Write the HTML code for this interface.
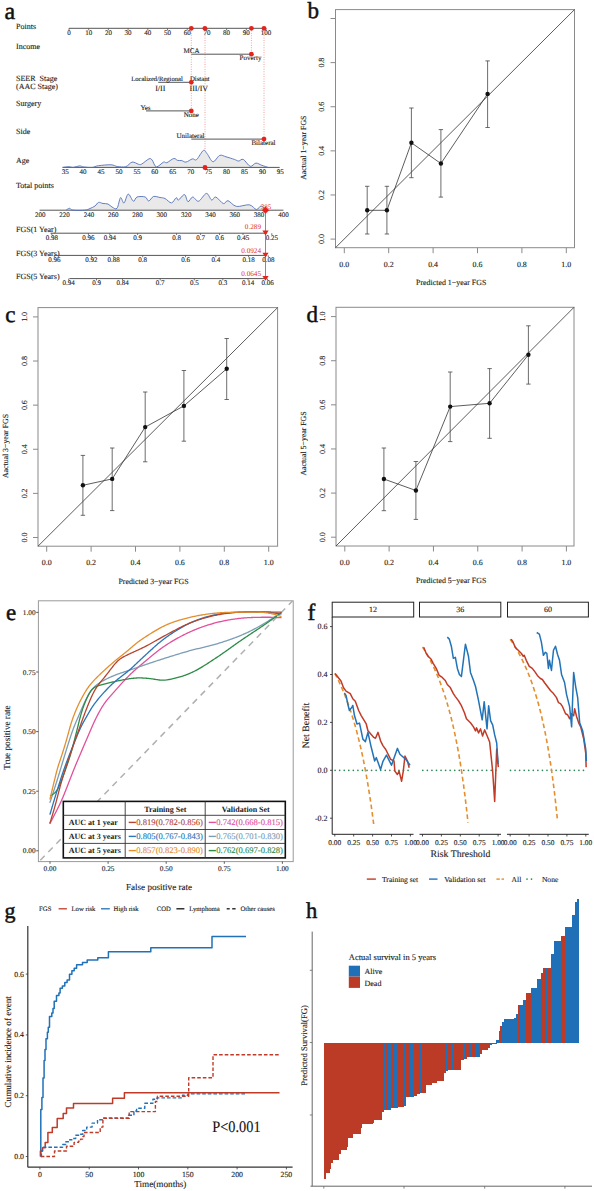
<!DOCTYPE html>
<html><head><meta charset="utf-8"><style>
html,body{margin:0;padding:0;background:#fff;}
svg{display:block;font-family:"Liberation Serif", serif;text-rendering:geometricPrecision;}
</style></head><body>
<svg width="594" height="1191" viewBox="0 0 594 1191">
<rect x="0" y="0" width="594" height="1191" fill="#fff"/>
<text x="4.60" y="18.60" font-size="24" text-anchor="start" fill="#111" font-weight="normal" stroke="#111" stroke-width="0.5">a</text>
<line x1="69.00" y1="28.30" x2="265.50" y2="28.30" stroke="#555" stroke-width="1"/>
<line x1="69.00" y1="28.30" x2="69.00" y2="30.30" stroke="#555" stroke-width="0.8"/>
<text x="69.00" y="34.92" font-size="7" text-anchor="middle" fill="#222" font-weight="normal" stroke="#222" stroke-width="0.12">0</text>
<line x1="88.70" y1="28.30" x2="88.70" y2="30.30" stroke="#555" stroke-width="0.8"/>
<text x="88.70" y="34.92" font-size="7" text-anchor="middle" fill="#222" font-weight="normal" stroke="#222" stroke-width="0.12">10</text>
<line x1="108.40" y1="28.30" x2="108.40" y2="30.30" stroke="#555" stroke-width="0.8"/>
<text x="108.40" y="34.92" font-size="7" text-anchor="middle" fill="#222" font-weight="normal" stroke="#222" stroke-width="0.12">20</text>
<line x1="128.10" y1="28.30" x2="128.10" y2="30.30" stroke="#555" stroke-width="0.8"/>
<text x="128.10" y="34.92" font-size="7" text-anchor="middle" fill="#222" font-weight="normal" stroke="#222" stroke-width="0.12">30</text>
<line x1="147.80" y1="28.30" x2="147.80" y2="30.30" stroke="#555" stroke-width="0.8"/>
<text x="147.80" y="34.92" font-size="7" text-anchor="middle" fill="#222" font-weight="normal" stroke="#222" stroke-width="0.12">40</text>
<line x1="167.50" y1="28.30" x2="167.50" y2="30.30" stroke="#555" stroke-width="0.8"/>
<text x="167.50" y="34.92" font-size="7" text-anchor="middle" fill="#222" font-weight="normal" stroke="#222" stroke-width="0.12">50</text>
<line x1="187.20" y1="28.30" x2="187.20" y2="30.30" stroke="#555" stroke-width="0.8"/>
<text x="187.20" y="34.92" font-size="7" text-anchor="middle" fill="#222" font-weight="normal" stroke="#222" stroke-width="0.12">60</text>
<line x1="206.90" y1="28.30" x2="206.90" y2="30.30" stroke="#555" stroke-width="0.8"/>
<text x="206.90" y="34.92" font-size="7" text-anchor="middle" fill="#222" font-weight="normal" stroke="#222" stroke-width="0.12">70</text>
<line x1="226.60" y1="28.30" x2="226.60" y2="30.30" stroke="#555" stroke-width="0.8"/>
<text x="226.60" y="34.92" font-size="7" text-anchor="middle" fill="#222" font-weight="normal" stroke="#222" stroke-width="0.12">80</text>
<line x1="246.30" y1="28.30" x2="246.30" y2="30.30" stroke="#555" stroke-width="0.8"/>
<text x="246.30" y="34.92" font-size="7" text-anchor="middle" fill="#222" font-weight="normal" stroke="#222" stroke-width="0.12">90</text>
<line x1="266.00" y1="28.30" x2="266.00" y2="30.30" stroke="#555" stroke-width="0.8"/>
<text x="266.00" y="34.92" font-size="7" text-anchor="middle" fill="#222" font-weight="normal" stroke="#222" stroke-width="0.12">100</text>
<text x="16.00" y="28.65" font-size="8" text-anchor="start" fill="#222" font-weight="normal" xml:space="preserve" stroke="#222" stroke-width="0.12">Points</text>
<text x="16.00" y="48.85" font-size="8" text-anchor="start" fill="#222" font-weight="normal" xml:space="preserve" stroke="#222" stroke-width="0.12">Income</text>
<text x="16.00" y="80.95" font-size="8" text-anchor="start" fill="#222" font-weight="normal" xml:space="preserve" stroke="#222" stroke-width="0.12">SEER  Stage</text>
<text x="16.00" y="88.55" font-size="8" text-anchor="start" fill="#222" font-weight="normal" xml:space="preserve" stroke="#222" stroke-width="0.12">(AAC Stage)</text>
<text x="16.00" y="105.65" font-size="8" text-anchor="start" fill="#222" font-weight="normal" xml:space="preserve" stroke="#222" stroke-width="0.12">Surgery</text>
<text x="16.00" y="134.05" font-size="8" text-anchor="start" fill="#222" font-weight="normal" xml:space="preserve" stroke="#222" stroke-width="0.12">Side</text>
<text x="16.00" y="162.55" font-size="8" text-anchor="start" fill="#222" font-weight="normal" xml:space="preserve" stroke="#222" stroke-width="0.12">Age</text>
<text x="16.00" y="187.95" font-size="8" text-anchor="start" fill="#222" font-weight="normal" xml:space="preserve" stroke="#222" stroke-width="0.12">Total points</text>
<line x1="191.30" y1="30.50" x2="191.30" y2="111.00" stroke="#e56a6a" stroke-width="0.7" stroke-dasharray="0.9,1.5"/>
<line x1="205.00" y1="30.50" x2="205.00" y2="167.40" stroke="#e56a6a" stroke-width="0.7" stroke-dasharray="0.9,1.5"/>
<line x1="251.40" y1="30.50" x2="251.40" y2="54.20" stroke="#e56a6a" stroke-width="0.7" stroke-dasharray="0.9,1.5"/>
<line x1="264.00" y1="30.50" x2="264.00" y2="139.10" stroke="#e56a6a" stroke-width="0.7" stroke-dasharray="0.9,1.5"/>
<line x1="191.30" y1="54.20" x2="251.40" y2="54.20" stroke="#555" stroke-width="1"/>
<text x="191.50" y="52.82" font-size="7" text-anchor="middle" fill="#222" font-weight="normal" stroke="#222" stroke-width="0.12">MCA</text>
<text x="250.50" y="60.12" font-size="7" text-anchor="middle" fill="#222" font-weight="normal" stroke="#222" stroke-width="0.12">Poverty</text>
<line x1="158.20" y1="82.30" x2="191.30" y2="82.30" stroke="#555" stroke-width="1"/>
<text x="157.00" y="80.68" font-size="6.6" text-anchor="middle" fill="#222" font-weight="normal" stroke="#222" stroke-width="0.12">Localized/Regional</text>
<text x="199.70" y="80.75" font-size="6.8" text-anchor="middle" fill="#222" font-weight="normal" stroke="#222" stroke-width="0.12">Distant</text>
<text x="160.30" y="91.25" font-size="8" text-anchor="middle" fill="#222" font-weight="normal" stroke="#222" stroke-width="0.12">I/II</text>
<text x="198.80" y="91.25" font-size="8" text-anchor="middle" fill="#222" font-weight="normal" stroke="#222" stroke-width="0.12">III/IV</text>
<line x1="146.00" y1="110.90" x2="191.30" y2="110.90" stroke="#555" stroke-width="1"/>
<text x="145.50" y="109.82" font-size="7" text-anchor="middle" fill="#222" font-weight="normal" stroke="#222" stroke-width="0.12">Yes</text>
<text x="191.30" y="117.32" font-size="7" text-anchor="middle" fill="#222" font-weight="normal" stroke="#222" stroke-width="0.12">None</text>
<line x1="191.30" y1="139.10" x2="264.00" y2="139.10" stroke="#555" stroke-width="1"/>
<text x="190.50" y="138.32" font-size="7" text-anchor="middle" fill="#222" font-weight="normal" stroke="#222" stroke-width="0.12">Unilateral</text>
<text x="263.50" y="145.22" font-size="7" text-anchor="middle" fill="#222" font-weight="normal" stroke="#222" stroke-width="0.12">Bilateral</text>
<circle cx="191.30" cy="28.30" r="2.4" fill="#e3231c"/>
<circle cx="204.90" cy="28.30" r="2.4" fill="#e3231c"/>
<circle cx="251.40" cy="28.30" r="2.4" fill="#e3231c"/>
<circle cx="264.00" cy="28.30" r="2.4" fill="#e3231c"/>
<circle cx="251.40" cy="54.20" r="2.4" fill="#e3231c"/>
<circle cx="191.30" cy="82.30" r="2.4" fill="#e3231c"/>
<circle cx="191.30" cy="110.90" r="2.4" fill="#e3231c"/>
<circle cx="264.00" cy="139.10" r="2.4" fill="#e3231c"/>
<circle cx="205.00" cy="167.40" r="2.4" fill="#e3231c"/>
<path d="M62.60,167.40 C63.65,167.28 67.15,166.70 68.90,166.70 C70.65,166.70 71.33,167.53 73.10,167.40 C74.87,167.27 77.73,165.98 79.50,165.90 C81.27,165.82 81.60,166.65 83.70,166.90 C85.80,167.15 89.65,167.60 92.10,167.40 C94.55,167.20 95.25,166.13 98.40,165.70 C101.55,165.27 107.85,164.67 111.00,164.80 C114.15,164.93 114.83,166.18 117.30,166.50 C119.77,166.82 123.33,167.43 125.80,166.70 C128.27,165.97 130.00,162.52 132.10,162.10 C134.20,161.68 136.83,163.85 138.40,164.20 C139.97,164.55 139.75,165.08 141.50,164.20 C143.25,163.32 147.13,159.60 148.90,158.90 C150.67,158.20 150.87,158.67 152.10,160.00 C153.33,161.33 154.38,166.55 156.30,166.90 C158.22,167.25 161.85,162.80 163.60,162.10 C165.35,161.40 165.10,163.30 166.80,162.70 C168.50,162.10 172.00,158.88 173.80,158.50 C175.60,158.12 176.27,160.05 177.60,160.40 C178.93,160.75 180.40,160.32 181.80,160.60 C183.20,160.88 184.23,162.38 186.00,162.10 C187.77,161.82 190.63,159.32 192.40,158.90 C194.17,158.48 194.78,161.00 196.60,159.60 C198.42,158.20 201.55,151.48 203.30,150.50 C205.05,149.52 205.48,151.83 207.10,153.70 C208.72,155.57 210.90,161.42 213.00,161.70 C215.10,161.98 217.53,156.22 219.70,155.40 C221.87,154.58 223.55,156.13 226.00,156.80 C228.45,157.47 232.28,158.70 234.40,159.40 C236.52,160.10 237.22,161.00 238.70,161.00 C240.18,161.00 241.38,158.52 243.30,159.40 C245.22,160.28 248.10,165.68 250.20,166.30 C252.30,166.92 253.97,163.27 255.90,163.10 C257.83,162.93 259.77,164.58 261.80,165.30 C263.83,166.02 267.05,167.05 268.10,167.40 Z" stroke="none" stroke-width="1" fill="#e9e9ea"/>
<line x1="62.60" y1="167.40" x2="279.70" y2="167.40" stroke="#555" stroke-width="1"/>
<path d="M62.60,167.40 C63.65,167.28 67.15,166.70 68.90,166.70 C70.65,166.70 71.33,167.53 73.10,167.40 C74.87,167.27 77.73,165.98 79.50,165.90 C81.27,165.82 81.60,166.65 83.70,166.90 C85.80,167.15 89.65,167.60 92.10,167.40 C94.55,167.20 95.25,166.13 98.40,165.70 C101.55,165.27 107.85,164.67 111.00,164.80 C114.15,164.93 114.83,166.18 117.30,166.50 C119.77,166.82 123.33,167.43 125.80,166.70 C128.27,165.97 130.00,162.52 132.10,162.10 C134.20,161.68 136.83,163.85 138.40,164.20 C139.97,164.55 139.75,165.08 141.50,164.20 C143.25,163.32 147.13,159.60 148.90,158.90 C150.67,158.20 150.87,158.67 152.10,160.00 C153.33,161.33 154.38,166.55 156.30,166.90 C158.22,167.25 161.85,162.80 163.60,162.10 C165.35,161.40 165.10,163.30 166.80,162.70 C168.50,162.10 172.00,158.88 173.80,158.50 C175.60,158.12 176.27,160.05 177.60,160.40 C178.93,160.75 180.40,160.32 181.80,160.60 C183.20,160.88 184.23,162.38 186.00,162.10 C187.77,161.82 190.63,159.32 192.40,158.90 C194.17,158.48 194.78,161.00 196.60,159.60 C198.42,158.20 201.55,151.48 203.30,150.50 C205.05,149.52 205.48,151.83 207.10,153.70 C208.72,155.57 210.90,161.42 213.00,161.70 C215.10,161.98 217.53,156.22 219.70,155.40 C221.87,154.58 223.55,156.13 226.00,156.80 C228.45,157.47 232.28,158.70 234.40,159.40 C236.52,160.10 237.22,161.00 238.70,161.00 C240.18,161.00 241.38,158.52 243.30,159.40 C245.22,160.28 248.10,165.68 250.20,166.30 C252.30,166.92 253.97,163.27 255.90,163.10 C257.83,162.93 259.77,164.58 261.80,165.30 C263.83,166.02 267.05,167.05 268.10,167.40" stroke="#5270b8" stroke-width="0.9" fill="none"/>
<circle cx="205.00" cy="167.40" r="2.4" fill="#e3231c"/>
<text x="65.20" y="174.12" font-size="7" text-anchor="middle" fill="#222" font-weight="normal" stroke="#222" stroke-width="0.12">35</text>
<text x="83.12" y="174.12" font-size="7" text-anchor="middle" fill="#222" font-weight="normal" stroke="#222" stroke-width="0.12">40</text>
<text x="101.05" y="174.12" font-size="7" text-anchor="middle" fill="#222" font-weight="normal" stroke="#222" stroke-width="0.12">45</text>
<text x="118.97" y="174.12" font-size="7" text-anchor="middle" fill="#222" font-weight="normal" stroke="#222" stroke-width="0.12">50</text>
<text x="136.90" y="174.12" font-size="7" text-anchor="middle" fill="#222" font-weight="normal" stroke="#222" stroke-width="0.12">55</text>
<text x="154.82" y="174.12" font-size="7" text-anchor="middle" fill="#222" font-weight="normal" stroke="#222" stroke-width="0.12">60</text>
<text x="172.75" y="174.12" font-size="7" text-anchor="middle" fill="#222" font-weight="normal" stroke="#222" stroke-width="0.12">65</text>
<text x="190.68" y="174.12" font-size="7" text-anchor="middle" fill="#222" font-weight="normal" stroke="#222" stroke-width="0.12">70</text>
<text x="208.60" y="174.12" font-size="7" text-anchor="middle" fill="#222" font-weight="normal" stroke="#222" stroke-width="0.12">75</text>
<text x="226.52" y="174.12" font-size="7" text-anchor="middle" fill="#222" font-weight="normal" stroke="#222" stroke-width="0.12">80</text>
<text x="244.45" y="174.12" font-size="7" text-anchor="middle" fill="#222" font-weight="normal" stroke="#222" stroke-width="0.12">85</text>
<text x="262.38" y="174.12" font-size="7" text-anchor="middle" fill="#222" font-weight="normal" stroke="#222" stroke-width="0.12">90</text>
<text x="280.30" y="174.12" font-size="7" text-anchor="middle" fill="#222" font-weight="normal" stroke="#222" stroke-width="0.12">95</text>
<path d="M66.00,210.20 C66.58,209.88 68.33,208.30 69.50,208.30 C70.67,208.30 70.42,209.88 73.00,210.20 C75.58,210.52 82.17,210.48 85.00,210.20 C87.83,209.92 88.33,209.20 90.00,208.50 C91.67,207.80 93.58,207.02 95.00,206.00 C96.42,204.98 97.17,202.82 98.50,202.40 C99.83,201.98 101.42,203.23 103.00,203.50 C104.58,203.77 106.50,203.42 108.00,204.00 C109.50,204.58 110.50,206.28 112.00,207.00 C113.50,207.72 115.58,209.85 117.00,208.30 C118.42,206.75 119.33,198.58 120.50,197.70 C121.67,196.82 122.72,203.60 124.00,203.00 C125.28,202.40 126.63,194.40 128.20,194.10 C129.77,193.80 131.93,200.72 133.40,201.20 C134.87,201.68 135.03,197.70 137.00,197.00 C138.97,196.30 143.25,196.33 145.20,197.00 C147.15,197.67 147.32,201.08 148.70,201.00 C150.08,200.92 151.62,197.08 153.50,196.50 C155.38,195.92 158.08,197.17 160.00,197.50 C161.92,197.83 163.08,197.60 165.00,198.50 C166.92,199.40 169.63,203.03 171.50,202.90 C173.37,202.77 175.03,198.18 176.20,197.70 C177.37,197.22 177.12,200.52 178.50,200.00 C179.88,199.48 182.92,194.32 184.50,194.60 C186.08,194.88 186.63,201.30 188.00,201.70 C189.37,202.10 190.93,197.08 192.70,197.00 C194.47,196.92 196.32,201.80 198.60,201.20 C200.88,200.60 204.23,193.60 206.40,193.40 C208.57,193.20 210.03,199.40 211.60,200.00 C213.17,200.60 213.83,196.40 215.80,197.00 C217.77,197.60 221.37,202.98 223.40,203.60 C225.43,204.22 225.83,200.23 228.00,200.70 C230.17,201.17 232.85,205.72 236.40,206.40 C239.95,207.08 245.97,204.28 249.30,204.80 C252.63,205.32 254.45,209.30 256.40,209.50 C258.35,209.70 259.43,205.88 261.00,206.00 C262.57,206.12 265.00,209.50 265.80,210.20 Z" stroke="none" stroke-width="1" fill="#e9e9ea"/>
<line x1="39.60" y1="210.20" x2="283.40" y2="210.20" stroke="#555" stroke-width="1"/>
<path d="M66.00,210.20 C66.58,209.88 68.33,208.30 69.50,208.30 C70.67,208.30 70.42,209.88 73.00,210.20 C75.58,210.52 82.17,210.48 85.00,210.20 C87.83,209.92 88.33,209.20 90.00,208.50 C91.67,207.80 93.58,207.02 95.00,206.00 C96.42,204.98 97.17,202.82 98.50,202.40 C99.83,201.98 101.42,203.23 103.00,203.50 C104.58,203.77 106.50,203.42 108.00,204.00 C109.50,204.58 110.50,206.28 112.00,207.00 C113.50,207.72 115.58,209.85 117.00,208.30 C118.42,206.75 119.33,198.58 120.50,197.70 C121.67,196.82 122.72,203.60 124.00,203.00 C125.28,202.40 126.63,194.40 128.20,194.10 C129.77,193.80 131.93,200.72 133.40,201.20 C134.87,201.68 135.03,197.70 137.00,197.00 C138.97,196.30 143.25,196.33 145.20,197.00 C147.15,197.67 147.32,201.08 148.70,201.00 C150.08,200.92 151.62,197.08 153.50,196.50 C155.38,195.92 158.08,197.17 160.00,197.50 C161.92,197.83 163.08,197.60 165.00,198.50 C166.92,199.40 169.63,203.03 171.50,202.90 C173.37,202.77 175.03,198.18 176.20,197.70 C177.37,197.22 177.12,200.52 178.50,200.00 C179.88,199.48 182.92,194.32 184.50,194.60 C186.08,194.88 186.63,201.30 188.00,201.70 C189.37,202.10 190.93,197.08 192.70,197.00 C194.47,196.92 196.32,201.80 198.60,201.20 C200.88,200.60 204.23,193.60 206.40,193.40 C208.57,193.20 210.03,199.40 211.60,200.00 C213.17,200.60 213.83,196.40 215.80,197.00 C217.77,197.60 221.37,202.98 223.40,203.60 C225.43,204.22 225.83,200.23 228.00,200.70 C230.17,201.17 232.85,205.72 236.40,206.40 C239.95,207.08 245.97,204.28 249.30,204.80 C252.63,205.32 254.45,209.30 256.40,209.50 C258.35,209.70 259.43,205.88 261.00,206.00 C262.57,206.12 265.00,209.50 265.80,210.20" stroke="#5270b8" stroke-width="0.9" fill="none"/>
<text x="40.30" y="216.72" font-size="7" text-anchor="middle" fill="#222" font-weight="normal" stroke="#222" stroke-width="0.12">200</text>
<text x="64.61" y="216.72" font-size="7" text-anchor="middle" fill="#222" font-weight="normal" stroke="#222" stroke-width="0.12">220</text>
<text x="88.92" y="216.72" font-size="7" text-anchor="middle" fill="#222" font-weight="normal" stroke="#222" stroke-width="0.12">240</text>
<text x="113.23" y="216.72" font-size="7" text-anchor="middle" fill="#222" font-weight="normal" stroke="#222" stroke-width="0.12">260</text>
<text x="137.54" y="216.72" font-size="7" text-anchor="middle" fill="#222" font-weight="normal" stroke="#222" stroke-width="0.12">280</text>
<text x="161.85" y="216.72" font-size="7" text-anchor="middle" fill="#222" font-weight="normal" stroke="#222" stroke-width="0.12">300</text>
<text x="186.16" y="216.72" font-size="7" text-anchor="middle" fill="#222" font-weight="normal" stroke="#222" stroke-width="0.12">320</text>
<text x="210.47" y="216.72" font-size="7" text-anchor="middle" fill="#222" font-weight="normal" stroke="#222" stroke-width="0.12">340</text>
<text x="234.78" y="216.72" font-size="7" text-anchor="middle" fill="#222" font-weight="normal" stroke="#222" stroke-width="0.12">360</text>
<text x="259.09" y="216.72" font-size="7" text-anchor="middle" fill="#222" font-weight="normal" stroke="#222" stroke-width="0.12">380</text>
<text x="283.40" y="216.72" font-size="7" text-anchor="middle" fill="#222" font-weight="normal" stroke="#222" stroke-width="0.12">400</text>
<text x="16.00" y="232.25" font-size="8" text-anchor="start" fill="#222" font-weight="normal" stroke="#222" stroke-width="0.12">FGS(1 Year)</text>
<line x1="50.50" y1="233.20" x2="266.50" y2="233.20" stroke="#555" stroke-width="1"/>
<line x1="51.80" y1="233.20" x2="51.80" y2="235.00" stroke="#555" stroke-width="0.8"/>
<text x="51.80" y="239.62" font-size="7" text-anchor="middle" fill="#222" font-weight="normal" stroke="#222" stroke-width="0.12">0.98</text>
<line x1="88.40" y1="233.20" x2="88.40" y2="235.00" stroke="#555" stroke-width="0.8"/>
<text x="88.40" y="239.62" font-size="7" text-anchor="middle" fill="#222" font-weight="normal" stroke="#222" stroke-width="0.12">0.96</text>
<line x1="109.80" y1="233.20" x2="109.80" y2="235.00" stroke="#555" stroke-width="0.8"/>
<text x="109.80" y="239.62" font-size="7" text-anchor="middle" fill="#222" font-weight="normal" stroke="#222" stroke-width="0.12">0.94</text>
<line x1="137.60" y1="233.20" x2="137.60" y2="235.00" stroke="#555" stroke-width="0.8"/>
<text x="137.60" y="239.62" font-size="7" text-anchor="middle" fill="#222" font-weight="normal" stroke="#222" stroke-width="0.12">0.9</text>
<line x1="176.60" y1="233.20" x2="176.60" y2="235.00" stroke="#555" stroke-width="0.8"/>
<text x="176.60" y="239.62" font-size="7" text-anchor="middle" fill="#222" font-weight="normal" stroke="#222" stroke-width="0.12">0.8</text>
<line x1="200.60" y1="233.20" x2="200.60" y2="235.00" stroke="#555" stroke-width="0.8"/>
<text x="200.60" y="239.62" font-size="7" text-anchor="middle" fill="#222" font-weight="normal" stroke="#222" stroke-width="0.12">0.7</text>
<line x1="219.50" y1="233.20" x2="219.50" y2="235.00" stroke="#555" stroke-width="0.8"/>
<text x="219.50" y="239.62" font-size="7" text-anchor="middle" fill="#222" font-weight="normal" stroke="#222" stroke-width="0.12">0.6</text>
<line x1="243.00" y1="233.20" x2="243.00" y2="235.00" stroke="#555" stroke-width="0.8"/>
<text x="243.00" y="239.62" font-size="7" text-anchor="middle" fill="#222" font-weight="normal" stroke="#222" stroke-width="0.12">0.45</text>
<line x1="271.80" y1="233.20" x2="271.80" y2="235.00" stroke="#555" stroke-width="0.8"/>
<text x="271.80" y="239.62" font-size="7" text-anchor="middle" fill="#222" font-weight="normal" stroke="#222" stroke-width="0.12">0.25</text>
<text x="261.00" y="229.48" font-size="7.2" text-anchor="end" fill="#e0302a" font-weight="normal">0.289</text>
<text x="16.00" y="255.55" font-size="8" text-anchor="start" fill="#222" font-weight="normal" stroke="#222" stroke-width="0.12">FGS(3 Years)</text>
<line x1="54.30" y1="255.40" x2="266.50" y2="255.40" stroke="#555" stroke-width="1"/>
<line x1="54.30" y1="255.40" x2="54.30" y2="257.20" stroke="#555" stroke-width="0.8"/>
<text x="54.30" y="262.32" font-size="7" text-anchor="middle" fill="#222" font-weight="normal" stroke="#222" stroke-width="0.12">0.96</text>
<line x1="91.40" y1="255.40" x2="91.40" y2="257.20" stroke="#555" stroke-width="0.8"/>
<text x="91.40" y="262.32" font-size="7" text-anchor="middle" fill="#222" font-weight="normal" stroke="#222" stroke-width="0.12">0.92</text>
<line x1="113.60" y1="255.40" x2="113.60" y2="257.20" stroke="#555" stroke-width="0.8"/>
<text x="113.60" y="262.32" font-size="7" text-anchor="middle" fill="#222" font-weight="normal" stroke="#222" stroke-width="0.12">0.88</text>
<line x1="142.70" y1="255.40" x2="142.70" y2="257.20" stroke="#555" stroke-width="0.8"/>
<text x="142.70" y="262.32" font-size="7" text-anchor="middle" fill="#222" font-weight="normal" stroke="#222" stroke-width="0.12">0.8</text>
<line x1="185.50" y1="255.40" x2="185.50" y2="257.20" stroke="#555" stroke-width="0.8"/>
<text x="185.50" y="262.32" font-size="7" text-anchor="middle" fill="#222" font-weight="normal" stroke="#222" stroke-width="0.12">0.6</text>
<line x1="215.80" y1="255.40" x2="215.80" y2="257.20" stroke="#555" stroke-width="0.8"/>
<text x="215.80" y="262.32" font-size="7" text-anchor="middle" fill="#222" font-weight="normal" stroke="#222" stroke-width="0.12">0.4</text>
<line x1="248.60" y1="255.40" x2="248.60" y2="257.20" stroke="#555" stroke-width="0.8"/>
<text x="248.60" y="262.32" font-size="7" text-anchor="middle" fill="#222" font-weight="normal" stroke="#222" stroke-width="0.12">0.18</text>
<line x1="268.30" y1="255.40" x2="268.30" y2="257.20" stroke="#555" stroke-width="0.8"/>
<text x="268.30" y="262.32" font-size="7" text-anchor="middle" fill="#222" font-weight="normal" stroke="#222" stroke-width="0.12">0.08</text>
<text x="261.00" y="252.78" font-size="7.2" text-anchor="end" fill="#e0302a" font-weight="normal">0.0924</text>
<text x="16.00" y="278.75" font-size="8" text-anchor="start" fill="#222" font-weight="normal" stroke="#222" stroke-width="0.12">FGS(5 Years)</text>
<line x1="69.40" y1="278.60" x2="266.50" y2="278.60" stroke="#555" stroke-width="1"/>
<line x1="68.70" y1="278.60" x2="68.70" y2="280.40" stroke="#555" stroke-width="0.8"/>
<text x="68.70" y="285.02" font-size="7" text-anchor="middle" fill="#222" font-weight="normal" stroke="#222" stroke-width="0.12">0.94</text>
<line x1="96.50" y1="278.60" x2="96.50" y2="280.40" stroke="#555" stroke-width="0.8"/>
<text x="96.50" y="285.02" font-size="7" text-anchor="middle" fill="#222" font-weight="normal" stroke="#222" stroke-width="0.12">0.9</text>
<line x1="122.50" y1="278.60" x2="122.50" y2="280.40" stroke="#555" stroke-width="0.8"/>
<text x="122.50" y="285.02" font-size="7" text-anchor="middle" fill="#222" font-weight="normal" stroke="#222" stroke-width="0.12">0.84</text>
<line x1="160.20" y1="278.60" x2="160.20" y2="280.40" stroke="#555" stroke-width="0.8"/>
<text x="160.20" y="285.02" font-size="7" text-anchor="middle" fill="#222" font-weight="normal" stroke="#222" stroke-width="0.12">0.7</text>
<line x1="194.30" y1="278.60" x2="194.30" y2="280.40" stroke="#555" stroke-width="0.8"/>
<text x="194.30" y="285.02" font-size="7" text-anchor="middle" fill="#222" font-weight="normal" stroke="#222" stroke-width="0.12">0.5</text>
<line x1="222.80" y1="278.60" x2="222.80" y2="280.40" stroke="#555" stroke-width="0.8"/>
<text x="222.80" y="285.02" font-size="7" text-anchor="middle" fill="#222" font-weight="normal" stroke="#222" stroke-width="0.12">0.3</text>
<line x1="248.00" y1="278.60" x2="248.00" y2="280.40" stroke="#555" stroke-width="0.8"/>
<text x="248.00" y="285.02" font-size="7" text-anchor="middle" fill="#222" font-weight="normal" stroke="#222" stroke-width="0.12">0.14</text>
<line x1="267.50" y1="278.60" x2="267.50" y2="280.40" stroke="#555" stroke-width="0.8"/>
<text x="267.50" y="285.02" font-size="7" text-anchor="middle" fill="#222" font-weight="normal" stroke="#222" stroke-width="0.12">0.06</text>
<text x="261.00" y="275.98" font-size="7.2" text-anchor="end" fill="#e0302a" font-weight="normal">0.0645</text>
<line x1="265.50" y1="207.00" x2="265.50" y2="278.60" stroke="#e23a35" stroke-width="0.8"/>
<polygon points="265.5,206.6 269.1,210.2 265.5,213.8 261.9,210.2" fill="#e3231c"/>
<text x="266.00" y="208.92" font-size="7" text-anchor="middle" fill="#e0302a" font-weight="normal">385</text>
<polygon points="262.4,230.60 268.6,230.60 265.5,235.40" fill="#e3231c"/>
<polygon points="262.4,252.80 268.6,252.80 265.5,257.60" fill="#e3231c"/>
<polygon points="262.4,276.00 268.6,276.00 265.5,280.80" fill="#e3231c"/>
<rect x="335.50" y="9.60" width="239.00" height="238.10" fill="none" stroke="#8a8a8a" stroke-width="1"/>
<line x1="344.30" y1="247.70" x2="344.30" y2="253.20" stroke="#8a8a8a" stroke-width="1"/>
<text x="344.30" y="266.51" font-size="7.9" text-anchor="middle" fill="#222" font-weight="normal" stroke="#222" stroke-width="0.12">0.0</text>
<line x1="330.50" y1="239.10" x2="335.50" y2="239.10" stroke="#8a8a8a" stroke-width="1"/>
<text x="321.50" y="241.71" font-size="7.9" text-anchor="middle" fill="#222" font-weight="normal" transform="rotate(-90 321.50 239.10)" stroke="#222" stroke-width="0.12">0.0</text>
<line x1="388.70" y1="247.70" x2="388.70" y2="253.20" stroke="#8a8a8a" stroke-width="1"/>
<text x="388.70" y="266.51" font-size="7.9" text-anchor="middle" fill="#222" font-weight="normal" stroke="#222" stroke-width="0.12">0.2</text>
<line x1="330.50" y1="194.98" x2="335.50" y2="194.98" stroke="#8a8a8a" stroke-width="1"/>
<text x="321.50" y="197.59" font-size="7.9" text-anchor="middle" fill="#222" font-weight="normal" transform="rotate(-90 321.50 194.98)" stroke="#222" stroke-width="0.12">0.2</text>
<line x1="433.10" y1="247.70" x2="433.10" y2="253.20" stroke="#8a8a8a" stroke-width="1"/>
<text x="433.10" y="266.51" font-size="7.9" text-anchor="middle" fill="#222" font-weight="normal" stroke="#222" stroke-width="0.12">0.4</text>
<line x1="330.50" y1="150.86" x2="335.50" y2="150.86" stroke="#8a8a8a" stroke-width="1"/>
<text x="321.50" y="153.47" font-size="7.9" text-anchor="middle" fill="#222" font-weight="normal" transform="rotate(-90 321.50 150.86)" stroke="#222" stroke-width="0.12">0.4</text>
<line x1="477.50" y1="247.70" x2="477.50" y2="253.20" stroke="#8a8a8a" stroke-width="1"/>
<text x="477.50" y="266.51" font-size="7.9" text-anchor="middle" fill="#222" font-weight="normal" stroke="#222" stroke-width="0.12">0.6</text>
<line x1="330.50" y1="106.74" x2="335.50" y2="106.74" stroke="#8a8a8a" stroke-width="1"/>
<text x="321.50" y="109.35" font-size="7.9" text-anchor="middle" fill="#222" font-weight="normal" transform="rotate(-90 321.50 106.74)" stroke="#222" stroke-width="0.12">0.6</text>
<line x1="521.90" y1="247.70" x2="521.90" y2="253.20" stroke="#8a8a8a" stroke-width="1"/>
<text x="521.90" y="266.51" font-size="7.9" text-anchor="middle" fill="#222" font-weight="normal" stroke="#222" stroke-width="0.12">0.8</text>
<line x1="330.50" y1="62.62" x2="335.50" y2="62.62" stroke="#8a8a8a" stroke-width="1"/>
<text x="321.50" y="65.23" font-size="7.9" text-anchor="middle" fill="#222" font-weight="normal" transform="rotate(-90 321.50 62.62)" stroke="#222" stroke-width="0.12">0.8</text>
<line x1="566.30" y1="247.70" x2="566.30" y2="253.20" stroke="#8a8a8a" stroke-width="1"/>
<text x="566.30" y="266.51" font-size="7.9" text-anchor="middle" fill="#222" font-weight="normal" stroke="#222" stroke-width="0.12">1.0</text>
<line x1="330.50" y1="18.50" x2="335.50" y2="18.50" stroke="#8a8a8a" stroke-width="1"/>
<line x1="335.50" y1="247.70" x2="574.50" y2="9.60" stroke="#333" stroke-width="0.8"/>
<polyline points="367.20,210.30 386.90,210.30 411.40,142.80 440.90,163.50 487.60,93.90" stroke="#333" stroke-width="0.8" fill="none" stroke-linejoin="round"/>
<line x1="367.20" y1="186.30" x2="367.20" y2="234.00" stroke="#484848" stroke-width="0.8"/>
<line x1="365.00" y1="186.30" x2="369.40" y2="186.30" stroke="#484848" stroke-width="0.8"/>
<line x1="365.00" y1="234.00" x2="369.40" y2="234.00" stroke="#484848" stroke-width="0.8"/>
<circle cx="367.20" cy="210.30" r="2.2" fill="#111"/>
<line x1="386.90" y1="186.30" x2="386.90" y2="234.00" stroke="#484848" stroke-width="0.8"/>
<line x1="384.70" y1="186.30" x2="389.10" y2="186.30" stroke="#484848" stroke-width="0.8"/>
<line x1="384.70" y1="234.00" x2="389.10" y2="234.00" stroke="#484848" stroke-width="0.8"/>
<circle cx="386.90" cy="210.30" r="2.2" fill="#111"/>
<line x1="411.40" y1="108.00" x2="411.40" y2="177.70" stroke="#484848" stroke-width="0.8"/>
<line x1="409.20" y1="108.00" x2="413.60" y2="108.00" stroke="#484848" stroke-width="0.8"/>
<line x1="409.20" y1="177.70" x2="413.60" y2="177.70" stroke="#484848" stroke-width="0.8"/>
<circle cx="411.40" cy="142.80" r="2.2" fill="#111"/>
<line x1="440.90" y1="129.60" x2="440.90" y2="197.10" stroke="#484848" stroke-width="0.8"/>
<line x1="438.70" y1="129.60" x2="443.10" y2="129.60" stroke="#484848" stroke-width="0.8"/>
<line x1="438.70" y1="197.10" x2="443.10" y2="197.10" stroke="#484848" stroke-width="0.8"/>
<circle cx="440.90" cy="163.50" r="2.2" fill="#111"/>
<line x1="487.60" y1="60.90" x2="487.60" y2="127.50" stroke="#484848" stroke-width="0.8"/>
<line x1="485.40" y1="60.90" x2="489.80" y2="60.90" stroke="#484848" stroke-width="0.8"/>
<line x1="485.40" y1="127.50" x2="489.80" y2="127.50" stroke="#484848" stroke-width="0.8"/>
<circle cx="487.60" cy="93.90" r="2.2" fill="#111"/>
<text x="451.20" y="285.41" font-size="7.9" text-anchor="middle" fill="#222" font-weight="normal" stroke="#222" stroke-width="0.12">Predicted 1−year FGS</text>
<text x="303.10" y="150.28" font-size="7.8" text-anchor="middle" fill="#222" font-weight="normal" transform="rotate(-90 303.10 147.70)" stroke="#222" stroke-width="0.12">Aactual 1−year FGS</text>
<text x="307.40" y="18.20" font-size="23" text-anchor="start" fill="#111" font-weight="normal" stroke="#111" stroke-width="0.5">b</text>
<rect x="38.00" y="307.60" width="239.60" height="238.60" fill="none" stroke="#8a8a8a" stroke-width="1"/>
<line x1="46.70" y1="546.20" x2="46.70" y2="551.70" stroke="#8a8a8a" stroke-width="1"/>
<text x="46.70" y="565.01" font-size="7.9" text-anchor="middle" fill="#222" font-weight="normal" stroke="#222" stroke-width="0.12">0.0</text>
<line x1="33.00" y1="537.50" x2="38.00" y2="537.50" stroke="#8a8a8a" stroke-width="1"/>
<text x="24.00" y="540.11" font-size="7.9" text-anchor="middle" fill="#222" font-weight="normal" transform="rotate(-90 24.00 537.50)" stroke="#222" stroke-width="0.12">0.0</text>
<line x1="91.10" y1="546.20" x2="91.10" y2="551.70" stroke="#8a8a8a" stroke-width="1"/>
<text x="91.10" y="565.01" font-size="7.9" text-anchor="middle" fill="#222" font-weight="normal" stroke="#222" stroke-width="0.12">0.2</text>
<line x1="33.00" y1="493.38" x2="38.00" y2="493.38" stroke="#8a8a8a" stroke-width="1"/>
<text x="24.00" y="495.99" font-size="7.9" text-anchor="middle" fill="#222" font-weight="normal" transform="rotate(-90 24.00 493.38)" stroke="#222" stroke-width="0.12">0.2</text>
<line x1="135.50" y1="546.20" x2="135.50" y2="551.70" stroke="#8a8a8a" stroke-width="1"/>
<text x="135.50" y="565.01" font-size="7.9" text-anchor="middle" fill="#222" font-weight="normal" stroke="#222" stroke-width="0.12">0.4</text>
<line x1="33.00" y1="449.26" x2="38.00" y2="449.26" stroke="#8a8a8a" stroke-width="1"/>
<text x="24.00" y="451.87" font-size="7.9" text-anchor="middle" fill="#222" font-weight="normal" transform="rotate(-90 24.00 449.26)" stroke="#222" stroke-width="0.12">0.4</text>
<line x1="179.90" y1="546.20" x2="179.90" y2="551.70" stroke="#8a8a8a" stroke-width="1"/>
<text x="179.90" y="565.01" font-size="7.9" text-anchor="middle" fill="#222" font-weight="normal" stroke="#222" stroke-width="0.12">0.6</text>
<line x1="33.00" y1="405.14" x2="38.00" y2="405.14" stroke="#8a8a8a" stroke-width="1"/>
<text x="24.00" y="407.75" font-size="7.9" text-anchor="middle" fill="#222" font-weight="normal" transform="rotate(-90 24.00 405.14)" stroke="#222" stroke-width="0.12">0.6</text>
<line x1="224.30" y1="546.20" x2="224.30" y2="551.70" stroke="#8a8a8a" stroke-width="1"/>
<text x="224.30" y="565.01" font-size="7.9" text-anchor="middle" fill="#222" font-weight="normal" stroke="#222" stroke-width="0.12">0.8</text>
<line x1="33.00" y1="361.02" x2="38.00" y2="361.02" stroke="#8a8a8a" stroke-width="1"/>
<text x="24.00" y="363.63" font-size="7.9" text-anchor="middle" fill="#222" font-weight="normal" transform="rotate(-90 24.00 361.02)" stroke="#222" stroke-width="0.12">0.8</text>
<line x1="268.70" y1="546.20" x2="268.70" y2="551.70" stroke="#8a8a8a" stroke-width="1"/>
<text x="268.70" y="565.01" font-size="7.9" text-anchor="middle" fill="#222" font-weight="normal" stroke="#222" stroke-width="0.12">1.0</text>
<line x1="33.00" y1="316.90" x2="38.00" y2="316.90" stroke="#8a8a8a" stroke-width="1"/>
<text x="24.00" y="319.51" font-size="7.9" text-anchor="middle" fill="#222" font-weight="normal" transform="rotate(-90 24.00 316.90)" stroke="#222" stroke-width="0.12">1.0</text>
<line x1="38.00" y1="546.20" x2="277.60" y2="307.60" stroke="#333" stroke-width="0.8"/>
<polyline points="82.90,485.30 112.20,478.90 145.20,427.10 183.90,405.90 226.70,368.80" stroke="#333" stroke-width="0.8" fill="none" stroke-linejoin="round"/>
<line x1="82.90" y1="455.40" x2="82.90" y2="515.30" stroke="#484848" stroke-width="0.8"/>
<line x1="80.70" y1="455.40" x2="85.10" y2="455.40" stroke="#484848" stroke-width="0.8"/>
<line x1="80.70" y1="515.30" x2="85.10" y2="515.30" stroke="#484848" stroke-width="0.8"/>
<circle cx="82.90" cy="485.30" r="2.2" fill="#111"/>
<line x1="112.20" y1="448.00" x2="112.20" y2="510.60" stroke="#484848" stroke-width="0.8"/>
<line x1="110.00" y1="448.00" x2="114.40" y2="448.00" stroke="#484848" stroke-width="0.8"/>
<line x1="110.00" y1="510.60" x2="114.40" y2="510.60" stroke="#484848" stroke-width="0.8"/>
<circle cx="112.20" cy="478.90" r="2.2" fill="#111"/>
<line x1="145.20" y1="392.00" x2="145.20" y2="461.80" stroke="#484848" stroke-width="0.8"/>
<line x1="143.00" y1="392.00" x2="147.40" y2="392.00" stroke="#484848" stroke-width="0.8"/>
<line x1="143.00" y1="461.80" x2="147.40" y2="461.80" stroke="#484848" stroke-width="0.8"/>
<circle cx="145.20" cy="427.10" r="2.2" fill="#111"/>
<line x1="183.90" y1="370.50" x2="183.90" y2="441.20" stroke="#484848" stroke-width="0.8"/>
<line x1="181.70" y1="370.50" x2="186.10" y2="370.50" stroke="#484848" stroke-width="0.8"/>
<line x1="181.70" y1="441.20" x2="186.10" y2="441.20" stroke="#484848" stroke-width="0.8"/>
<circle cx="183.90" cy="405.90" r="2.2" fill="#111"/>
<line x1="226.70" y1="338.50" x2="226.70" y2="399.50" stroke="#484848" stroke-width="0.8"/>
<line x1="224.50" y1="338.50" x2="228.90" y2="338.50" stroke="#484848" stroke-width="0.8"/>
<line x1="224.50" y1="399.50" x2="228.90" y2="399.50" stroke="#484848" stroke-width="0.8"/>
<circle cx="226.70" cy="368.80" r="2.2" fill="#111"/>
<text x="153.50" y="584.01" font-size="7.9" text-anchor="middle" fill="#222" font-weight="normal" stroke="#222" stroke-width="0.12">Predicted 3−year FGS</text>
<text x="5.60" y="448.58" font-size="7.8" text-anchor="middle" fill="#222" font-weight="normal" transform="rotate(-90 5.60 446.00)" stroke="#222" stroke-width="0.12">Aactual 3−year FGS</text>
<text x="5.20" y="321.90" font-size="23" text-anchor="start" fill="#111" font-weight="normal" stroke="#111" stroke-width="0.5">c</text>
<rect x="336.00" y="307.30" width="238.00" height="238.70" fill="none" stroke="#8a8a8a" stroke-width="1"/>
<line x1="344.80" y1="546.00" x2="344.80" y2="551.50" stroke="#8a8a8a" stroke-width="1"/>
<text x="344.80" y="564.81" font-size="7.9" text-anchor="middle" fill="#222" font-weight="normal" stroke="#222" stroke-width="0.12">0.0</text>
<line x1="331.00" y1="537.20" x2="336.00" y2="537.20" stroke="#8a8a8a" stroke-width="1"/>
<text x="322.00" y="539.81" font-size="7.9" text-anchor="middle" fill="#222" font-weight="normal" transform="rotate(-90 322.00 537.20)" stroke="#222" stroke-width="0.12">0.0</text>
<line x1="389.12" y1="546.00" x2="389.12" y2="551.50" stroke="#8a8a8a" stroke-width="1"/>
<text x="389.12" y="564.81" font-size="7.9" text-anchor="middle" fill="#222" font-weight="normal" stroke="#222" stroke-width="0.12">0.2</text>
<line x1="331.00" y1="493.08" x2="336.00" y2="493.08" stroke="#8a8a8a" stroke-width="1"/>
<text x="322.00" y="495.69" font-size="7.9" text-anchor="middle" fill="#222" font-weight="normal" transform="rotate(-90 322.00 493.08)" stroke="#222" stroke-width="0.12">0.2</text>
<line x1="433.44" y1="546.00" x2="433.44" y2="551.50" stroke="#8a8a8a" stroke-width="1"/>
<text x="433.44" y="564.81" font-size="7.9" text-anchor="middle" fill="#222" font-weight="normal" stroke="#222" stroke-width="0.12">0.4</text>
<line x1="331.00" y1="448.96" x2="336.00" y2="448.96" stroke="#8a8a8a" stroke-width="1"/>
<text x="322.00" y="451.57" font-size="7.9" text-anchor="middle" fill="#222" font-weight="normal" transform="rotate(-90 322.00 448.96)" stroke="#222" stroke-width="0.12">0.4</text>
<line x1="477.76" y1="546.00" x2="477.76" y2="551.50" stroke="#8a8a8a" stroke-width="1"/>
<text x="477.76" y="564.81" font-size="7.9" text-anchor="middle" fill="#222" font-weight="normal" stroke="#222" stroke-width="0.12">0.6</text>
<line x1="331.00" y1="404.84" x2="336.00" y2="404.84" stroke="#8a8a8a" stroke-width="1"/>
<text x="322.00" y="407.45" font-size="7.9" text-anchor="middle" fill="#222" font-weight="normal" transform="rotate(-90 322.00 404.84)" stroke="#222" stroke-width="0.12">0.6</text>
<line x1="522.08" y1="546.00" x2="522.08" y2="551.50" stroke="#8a8a8a" stroke-width="1"/>
<text x="522.08" y="564.81" font-size="7.9" text-anchor="middle" fill="#222" font-weight="normal" stroke="#222" stroke-width="0.12">0.8</text>
<line x1="331.00" y1="360.72" x2="336.00" y2="360.72" stroke="#8a8a8a" stroke-width="1"/>
<text x="322.00" y="363.33" font-size="7.9" text-anchor="middle" fill="#222" font-weight="normal" transform="rotate(-90 322.00 360.72)" stroke="#222" stroke-width="0.12">0.8</text>
<line x1="566.40" y1="546.00" x2="566.40" y2="551.50" stroke="#8a8a8a" stroke-width="1"/>
<text x="566.40" y="564.81" font-size="7.9" text-anchor="middle" fill="#222" font-weight="normal" stroke="#222" stroke-width="0.12">1.0</text>
<line x1="331.00" y1="316.60" x2="336.00" y2="316.60" stroke="#8a8a8a" stroke-width="1"/>
<text x="322.00" y="319.21" font-size="7.9" text-anchor="middle" fill="#222" font-weight="normal" transform="rotate(-90 322.00 316.60)" stroke="#222" stroke-width="0.12">1.0</text>
<line x1="336.00" y1="546.00" x2="574.00" y2="307.30" stroke="#333" stroke-width="0.8"/>
<polyline points="383.90,479.00 415.90,490.50 450.20,406.60 489.60,403.30 528.40,354.80" stroke="#333" stroke-width="0.8" fill="none" stroke-linejoin="round"/>
<line x1="383.90" y1="448.00" x2="383.90" y2="510.70" stroke="#484848" stroke-width="0.8"/>
<line x1="381.70" y1="448.00" x2="386.10" y2="448.00" stroke="#484848" stroke-width="0.8"/>
<line x1="381.70" y1="510.70" x2="386.10" y2="510.70" stroke="#484848" stroke-width="0.8"/>
<circle cx="383.90" cy="479.00" r="2.2" fill="#111"/>
<line x1="415.90" y1="461.50" x2="415.90" y2="519.40" stroke="#484848" stroke-width="0.8"/>
<line x1="413.70" y1="461.50" x2="418.10" y2="461.50" stroke="#484848" stroke-width="0.8"/>
<line x1="413.70" y1="519.40" x2="418.10" y2="519.40" stroke="#484848" stroke-width="0.8"/>
<circle cx="415.90" cy="490.50" r="2.2" fill="#111"/>
<line x1="450.20" y1="372.00" x2="450.20" y2="441.60" stroke="#484848" stroke-width="0.8"/>
<line x1="448.00" y1="372.00" x2="452.40" y2="372.00" stroke="#484848" stroke-width="0.8"/>
<line x1="448.00" y1="441.60" x2="452.40" y2="441.60" stroke="#484848" stroke-width="0.8"/>
<circle cx="450.20" cy="406.60" r="2.2" fill="#111"/>
<line x1="489.60" y1="368.60" x2="489.60" y2="438.30" stroke="#484848" stroke-width="0.8"/>
<line x1="487.40" y1="368.60" x2="491.80" y2="368.60" stroke="#484848" stroke-width="0.8"/>
<line x1="487.40" y1="438.30" x2="491.80" y2="438.30" stroke="#484848" stroke-width="0.8"/>
<circle cx="489.60" cy="403.30" r="2.2" fill="#111"/>
<line x1="528.40" y1="325.80" x2="528.40" y2="384.10" stroke="#484848" stroke-width="0.8"/>
<line x1="526.20" y1="325.80" x2="530.60" y2="325.80" stroke="#484848" stroke-width="0.8"/>
<line x1="526.20" y1="384.10" x2="530.60" y2="384.10" stroke="#484848" stroke-width="0.8"/>
<circle cx="528.40" cy="354.80" r="2.2" fill="#111"/>
<text x="451.20" y="582.91" font-size="7.9" text-anchor="middle" fill="#222" font-weight="normal" stroke="#222" stroke-width="0.12">Predicted 5−year FGS</text>
<text x="303.80" y="446.08" font-size="7.8" text-anchor="middle" fill="#222" font-weight="normal" transform="rotate(-90 303.80 443.50)" stroke="#222" stroke-width="0.12">Aactual 5−year FGS</text>
<text x="306.60" y="322.00" font-size="23" text-anchor="start" fill="#111" font-weight="normal" stroke="#111" stroke-width="0.5">d</text>
<text x="5.90" y="620.30" font-size="23" text-anchor="start" fill="#111" font-weight="normal" stroke="#111" stroke-width="0.5">e</text>
<rect x="38.40" y="600.80" width="254.80" height="260.80" fill="none" stroke="#999" stroke-width="1"/>
<line x1="36.20" y1="850.80" x2="38.40" y2="850.80" stroke="#333" stroke-width="0.8"/>
<text x="35.60" y="853.42" font-size="7.3" text-anchor="end" fill="#222" font-weight="normal" stroke="#222" stroke-width="0.12">0.00</text>
<line x1="50.00" y1="861.60" x2="50.00" y2="863.80" stroke="#333" stroke-width="0.8"/>
<text x="50.00" y="871.42" font-size="7.3" text-anchor="middle" fill="#222" font-weight="normal" stroke="#222" stroke-width="0.12">0.00</text>
<line x1="36.20" y1="791.20" x2="38.40" y2="791.20" stroke="#333" stroke-width="0.8"/>
<text x="35.60" y="793.82" font-size="7.3" text-anchor="end" fill="#222" font-weight="normal" stroke="#222" stroke-width="0.12">0.25</text>
<line x1="108.10" y1="861.60" x2="108.10" y2="863.80" stroke="#333" stroke-width="0.8"/>
<text x="108.10" y="871.42" font-size="7.3" text-anchor="middle" fill="#222" font-weight="normal" stroke="#222" stroke-width="0.12">0.25</text>
<line x1="36.20" y1="731.60" x2="38.40" y2="731.60" stroke="#333" stroke-width="0.8"/>
<text x="35.60" y="734.22" font-size="7.3" text-anchor="end" fill="#222" font-weight="normal" stroke="#222" stroke-width="0.12">0.50</text>
<line x1="166.20" y1="861.60" x2="166.20" y2="863.80" stroke="#333" stroke-width="0.8"/>
<text x="166.20" y="871.42" font-size="7.3" text-anchor="middle" fill="#222" font-weight="normal" stroke="#222" stroke-width="0.12">0.50</text>
<line x1="36.20" y1="672.00" x2="38.40" y2="672.00" stroke="#333" stroke-width="0.8"/>
<text x="35.60" y="674.62" font-size="7.3" text-anchor="end" fill="#222" font-weight="normal" stroke="#222" stroke-width="0.12">0.75</text>
<line x1="224.30" y1="861.60" x2="224.30" y2="863.80" stroke="#333" stroke-width="0.8"/>
<text x="224.30" y="871.42" font-size="7.3" text-anchor="middle" fill="#222" font-weight="normal" stroke="#222" stroke-width="0.12">0.75</text>
<line x1="36.20" y1="612.40" x2="38.40" y2="612.40" stroke="#333" stroke-width="0.8"/>
<text x="35.60" y="615.02" font-size="7.3" text-anchor="end" fill="#222" font-weight="normal" stroke="#222" stroke-width="0.12">1.00</text>
<line x1="282.40" y1="861.60" x2="282.40" y2="863.80" stroke="#333" stroke-width="0.8"/>
<text x="282.40" y="871.42" font-size="7.3" text-anchor="middle" fill="#222" font-weight="normal" stroke="#222" stroke-width="0.12">1.00</text>
<text x="159.00" y="890.01" font-size="9.1" text-anchor="middle" fill="#222" font-weight="normal" stroke="#222" stroke-width="0.12">False positive rate</text>
<text x="7.00" y="740.65" font-size="9.2" text-anchor="middle" fill="#222" font-weight="normal" transform="rotate(-90 7.00 737.60)" stroke="#222" stroke-width="0.12">True positive rate</text>
<line x1="40.30" y1="860.30" x2="292.40" y2="601.00" stroke="#b0b0b0" stroke-width="1.5" stroke-dasharray="6.3,5.2"/>
<polyline points="50.00,823.40 50.46,822.51 50.92,821.62 51.38,820.73 51.84,819.85 52.30,818.96 52.76,818.07 53.22,817.18 53.68,816.30 54.15,815.41 54.61,814.52 55.07,813.63 55.53,812.75 55.99,811.86 56.45,810.97 56.90,810.08 57.35,809.18 57.80,808.29 58.24,807.39 58.68,806.49 59.12,805.59 59.55,804.69 59.98,803.79 60.40,802.88 60.82,801.97 61.23,801.06 61.64,800.15 62.04,799.23 62.44,798.32 62.84,797.40 63.23,796.48 63.61,795.55 63.99,794.63 64.37,793.71 64.75,792.78 65.12,791.85 65.49,790.92 65.86,789.99 66.23,789.06 66.59,788.13 66.96,787.20 67.32,786.27 67.68,785.33 68.04,784.40 68.40,783.47 68.76,782.53 69.12,781.60 69.48,780.67 69.84,779.73 70.20,778.80 70.56,777.87 70.92,776.93 71.29,776.00 71.65,775.07 72.02,774.14 72.38,773.21 72.75,772.28 73.12,771.35 73.50,770.42 73.87,769.49 74.25,768.57 74.62,767.64 75.00,766.72 75.38,765.79 75.77,764.87 76.15,763.94 76.54,763.02 76.92,762.10 77.31,761.17 77.70,760.25 78.08,759.33 78.47,758.41 78.86,757.49 79.25,756.57 79.64,755.64 80.03,754.72 80.43,753.80 80.82,752.88 81.21,751.96 81.60,751.04 82.00,750.12 82.39,749.20 82.78,748.28 83.18,747.37 83.57,746.45 83.97,745.53 84.36,744.61 84.76,743.69 85.15,742.77 85.55,741.85 85.94,740.93 86.34,740.01 86.74,739.09 87.13,738.18 87.53,737.26 87.92,736.34 88.31,735.42 88.71,734.50 89.10,733.58 89.49,732.66 89.89,731.74 90.28,730.82 90.67,729.90 91.07,728.98 91.46,728.06 91.86,727.14 92.26,726.23 92.66,725.31 93.07,724.40 93.48,723.49 93.90,722.58 94.32,721.67 94.75,720.77 95.18,719.86 95.62,718.97 96.06,718.07 96.51,717.18 96.96,716.28 97.42,715.39 97.88,714.51 98.35,713.62 98.82,712.74 99.30,711.86 99.79,710.99 100.28,710.12 100.77,709.25 101.28,708.39 101.79,707.53 102.31,706.68 102.85,705.83 103.39,705.00 103.94,704.17 104.51,703.34 105.09,702.53 105.68,701.73 106.29,700.94 106.91,700.15 107.54,699.38 108.18,698.61 108.82,697.85 109.47,697.09 110.13,696.34 110.79,695.58 111.46,694.84 112.12,694.09 112.78,693.34 113.45,692.59 114.11,691.84 114.77,691.09 115.44,690.35 116.10,689.60 116.77,688.85 117.43,688.10 118.10,687.36 118.76,686.61 119.43,685.87 120.10,685.12 120.77,684.38 121.44,683.64 122.12,682.90 122.79,682.16 123.47,681.43 124.15,680.70 124.84,679.97 125.52,679.24 126.22,678.52 126.91,677.80 127.61,677.08 128.31,676.37 129.02,675.66 129.73,674.96 130.44,674.26 131.16,673.57 131.89,672.88 132.62,672.19 133.35,671.51 134.09,670.84 134.83,670.17 135.58,669.50 136.33,668.84 137.08,668.18 137.83,667.53 138.59,666.87 139.35,666.23 140.12,665.58 140.88,664.93 141.65,664.29 142.41,663.65 143.18,663.01 143.95,662.37 144.72,661.72 145.49,661.08 146.25,660.44 147.02,659.80 147.79,659.16 148.56,658.52 149.32,657.87 150.09,657.23 150.86,656.59 151.63,655.95 152.40,655.32 153.17,654.68 153.95,654.05 154.72,653.42 155.50,652.79 156.28,652.17 157.07,651.55 157.86,650.94 158.65,650.33 159.45,649.72 160.25,649.13 161.06,648.54 161.87,647.95 162.68,647.37 163.50,646.80 164.33,646.23 165.16,645.68 165.99,645.12 166.83,644.58 167.67,644.04 168.51,643.50 169.36,642.97 170.21,642.45 171.07,641.93 171.92,641.41 172.78,640.90 173.65,640.39 174.51,639.89 175.38,639.39 176.25,638.90 177.12,638.41 178.00,637.93 178.88,637.45 179.76,636.97 180.64,636.50 181.52,636.04 182.41,635.58 183.30,635.12 184.19,634.67 185.09,634.22 185.98,633.78 186.88,633.35 187.79,632.91 188.69,632.49 189.60,632.07 190.51,631.66 191.42,631.25 192.34,630.85 193.26,630.45 194.18,630.06 195.10,629.68 196.03,629.30 196.95,628.93 197.89,628.56 198.82,628.20 199.75,627.85 200.69,627.50 201.63,627.16 202.57,626.82 203.52,626.49 204.46,626.17 205.41,625.85 206.36,625.53 207.31,625.23 208.27,624.92 209.22,624.63 210.18,624.34 211.14,624.05 212.10,623.77 213.06,623.50 214.02,623.23 214.99,622.97 215.95,622.71 216.92,622.46 217.89,622.22 218.86,621.98 219.84,621.75 220.81,621.53 221.79,621.31 222.76,621.10 223.74,620.89 224.72,620.70 225.70,620.50 226.69,620.32 227.67,620.14 228.65,619.96 229.64,619.79 230.63,619.63 231.61,619.47 232.60,619.32 233.59,619.18 234.58,619.04 235.57,618.90 236.56,618.77 237.56,618.64 238.55,618.52 239.54,618.41 240.54,618.30 241.53,618.20 242.53,618.10 243.52,618.02 244.52,617.93 245.52,617.86 246.51,617.79 247.51,617.72 248.51,617.66 249.51,617.61 250.51,617.56 251.51,617.52 252.51,617.48 253.51,617.44 254.51,617.41 255.51,617.38 256.51,617.36 257.51,617.33 258.51,617.31 259.51,617.29 260.51,617.28 261.51,617.26 262.51,617.25 263.51,617.24 264.51,617.24 265.51,617.23 266.51,617.23 267.51,617.23 268.51,617.24 269.51,617.25 270.51,617.27 271.51,617.30 272.51,617.33 273.51,617.36 274.51,617.40 275.50,617.44 276.50,617.49 277.50,617.53 278.50,617.58 279.50,617.63 280.50,617.68 281.00,617.70" stroke="#e2509b" stroke-width="1.3" fill="none" stroke-linejoin="round" stroke-linecap="round"/>
<polyline points="50.00,802.40 50.31,801.45 50.62,800.50 50.93,799.55 51.23,798.59 51.54,797.64 51.85,796.69 52.16,795.74 52.47,794.79 52.78,793.84 53.09,792.89 53.40,791.93 53.71,790.98 54.02,790.03 54.32,789.08 54.63,788.13 54.94,787.17 55.24,786.22 55.55,785.27 55.85,784.32 56.15,783.36 56.46,782.41 56.76,781.46 57.06,780.50 57.36,779.55 57.65,778.59 57.95,777.64 58.24,776.68 58.54,775.72 58.83,774.77 59.12,773.81 59.41,772.85 59.70,771.90 59.99,770.94 60.28,769.98 60.57,769.02 60.85,768.06 61.14,767.11 61.43,766.15 61.71,765.19 62.00,764.23 62.29,763.27 62.58,762.31 62.86,761.36 63.15,760.40 63.44,759.44 63.73,758.48 64.01,757.52 64.30,756.57 64.60,755.61 64.89,754.65 65.18,753.70 65.47,752.74 65.77,751.78 66.06,750.83 66.36,749.87 66.65,748.92 66.95,747.96 67.25,747.01 67.55,746.05 67.84,745.10 68.14,744.14 68.45,743.19 68.75,742.23 69.05,741.28 69.35,740.33 69.66,739.38 69.97,738.42 70.28,737.47 70.59,736.52 70.91,735.57 71.23,734.63 71.55,733.68 71.88,732.73 72.21,731.79 72.54,730.85 72.89,729.91 73.23,728.97 73.58,728.03 73.94,727.10 74.31,726.17 74.68,725.24 75.05,724.31 75.43,723.39 75.82,722.46 76.21,721.54 76.60,720.62 76.99,719.70 77.39,718.79 77.79,717.87 78.19,716.95 78.58,716.03 78.98,715.11 79.38,714.20 79.77,713.28 80.17,712.36 80.56,711.44 80.96,710.52 81.36,709.60 81.75,708.68 82.15,707.77 82.55,706.85 82.96,705.94 83.37,705.02 83.78,704.11 84.20,703.20 84.62,702.30 85.05,701.40 85.49,700.50 85.93,699.60 86.39,698.71 86.85,697.82 87.32,696.94 87.79,696.06 88.28,695.19 88.78,694.33 89.29,693.47 89.82,692.63 90.37,691.79 90.93,690.98 91.52,690.17 92.13,689.39 92.76,688.63 93.42,687.90 94.11,687.18 94.82,686.49 95.56,685.83 96.31,685.19 97.09,684.58 97.89,683.99 98.71,683.42 99.53,682.86 100.38,682.33 101.23,681.81 102.09,681.31 102.96,680.82 103.84,680.35 104.72,679.88 105.61,679.42 106.50,678.97 107.40,678.53 108.30,678.10 109.21,677.67 110.12,677.26 111.03,676.84 111.94,676.44 112.86,676.05 113.78,675.66 114.71,675.29 115.64,674.92 116.57,674.56 117.51,674.21 118.45,673.88 119.39,673.54 120.34,673.22 121.28,672.90 122.23,672.58 123.18,672.27 124.13,671.95 125.08,671.64 126.03,671.33 126.98,671.01 127.93,670.70 128.88,670.38 129.83,670.06 130.77,669.73 131.72,669.41 132.66,669.08 133.61,668.75 134.55,668.42 135.50,668.09 136.44,667.76 137.39,667.43 138.33,667.10 139.28,666.77 140.22,666.45 141.17,666.12 142.11,665.79 143.06,665.47 144.01,665.15 144.95,664.82 145.90,664.50 146.85,664.18 147.79,663.86 148.74,663.54 149.69,663.22 150.64,662.90 151.59,662.58 152.54,662.27 153.48,661.95 154.43,661.63 155.38,661.32 156.33,661.00 157.28,660.69 158.23,660.38 159.19,660.07 160.14,659.76 161.09,659.45 162.04,659.15 162.99,658.84 163.95,658.54 164.90,658.24 165.85,657.93 166.81,657.63 167.76,657.33 168.72,657.03 169.67,656.73 170.63,656.43 171.58,656.14 172.54,655.84 173.49,655.54 174.45,655.25 175.40,654.95 176.36,654.66 177.32,654.37 178.27,654.08 179.23,653.79 180.19,653.50 181.15,653.21 182.11,652.93 183.06,652.64 184.02,652.36 184.99,652.08 185.95,651.81 186.91,651.53 187.87,651.26 188.83,650.99 189.80,650.73 190.76,650.47 191.73,650.21 192.70,649.96 193.67,649.71 194.64,649.46 195.61,649.22 196.58,648.98 197.55,648.74 198.52,648.51 199.50,648.28 200.47,648.05 201.44,647.82 202.42,647.59 203.39,647.36 204.36,647.13 205.34,646.90 206.31,646.66 207.28,646.43 208.25,646.19 209.22,645.94 210.19,645.70 211.16,645.44 212.13,645.18 213.09,644.92 214.05,644.65 215.02,644.38 215.98,644.10 216.94,643.82 217.89,643.53 218.85,643.24 219.81,642.94 220.76,642.64 221.71,642.34 222.67,642.04 223.62,641.73 224.57,641.41 225.52,641.10 226.46,640.78 227.41,640.46 228.36,640.13 229.30,639.80 230.24,639.47 231.19,639.13 232.13,638.79 233.07,638.45 234.01,638.10 234.94,637.75 235.88,637.40 236.81,637.04 237.74,636.67 238.67,636.30 239.60,635.92 240.52,635.54 241.44,635.16 242.36,634.77 243.28,634.37 244.20,633.97 245.11,633.56 246.02,633.14 246.93,632.72 247.83,632.30 248.73,631.86 249.63,631.43 250.53,630.98 251.42,630.53 252.31,630.08 253.20,629.62 254.09,629.16 254.97,628.69 255.86,628.22 256.74,627.75 257.61,627.27 258.49,626.78 259.36,626.30 260.23,625.80 261.10,625.31 261.97,624.81 262.83,624.30 263.69,623.80 264.55,623.28 265.41,622.77 266.26,622.24 267.11,621.72 267.96,621.19 268.81,620.66 269.65,620.12 270.50,619.58 271.34,619.04 272.18,618.50 273.02,617.96 273.86,617.42 274.70,616.87 275.54,616.33 276.38,615.78 277.22,615.24 278.06,614.70 278.90,614.15 279.74,613.61 280.58,613.07 281.00,612.80" stroke="#7b9db5" stroke-width="1.3" fill="none" stroke-linejoin="round" stroke-linecap="round"/>
<polyline points="50.50,795.70 51.35,795.24 52.18,794.77 52.99,794.27 53.77,793.72 54.51,793.12 55.20,792.47 55.84,791.77 56.44,791.02 56.99,790.23 57.51,789.41 57.99,788.55 58.44,787.67 58.87,786.78 59.29,785.87 59.68,784.96 60.07,784.04 60.45,783.11 60.82,782.18 61.18,781.25 61.54,780.32 61.90,779.38 62.25,778.44 62.60,777.51 62.95,776.57 63.30,775.63 63.64,774.69 63.99,773.75 64.33,772.81 64.67,771.87 65.01,770.93 65.35,769.98 65.68,769.04 66.02,768.10 66.35,767.15 66.68,766.21 67.00,765.26 67.33,764.31 67.65,763.37 67.97,762.42 68.29,761.47 68.60,760.52 68.91,759.57 69.22,758.61 69.53,757.66 69.83,756.71 70.12,755.75 70.41,754.79 70.70,753.83 70.98,752.87 71.26,751.91 71.54,750.95 71.81,749.99 72.08,749.02 72.34,748.06 72.60,747.09 72.86,746.12 73.12,745.16 73.37,744.19 73.63,743.22 73.88,742.25 74.13,741.28 74.37,740.31 74.62,739.34 74.87,738.37 75.11,737.40 75.36,736.43 75.61,735.46 75.85,734.49 76.10,733.52 76.35,732.55 76.59,731.58 76.84,730.61 77.08,729.64 77.33,728.67 77.57,727.70 77.81,726.73 78.05,725.75 78.29,724.78 78.53,723.81 78.77,722.84 79.01,721.87 79.25,720.89 79.49,719.92 79.74,718.95 79.99,717.98 80.24,717.02 80.50,716.05 80.77,715.08 81.04,714.12 81.32,713.16 81.61,712.20 81.91,711.25 82.22,710.30 82.53,709.35 82.85,708.40 83.19,707.46 83.52,706.52 83.87,705.58 84.22,704.64 84.58,703.71 84.95,702.78 85.33,701.85 85.71,700.92 86.10,700.00 86.49,699.08 86.90,698.17 87.31,697.26 87.74,696.36 88.18,695.46 88.63,694.57 89.10,693.70 89.60,692.85 90.12,692.01 90.68,691.21 91.27,690.43 91.90,689.70 92.58,689.02 93.29,688.39 94.05,687.81 94.86,687.30 95.69,686.84 96.57,686.43 97.47,686.06 98.39,685.74 99.33,685.44 100.28,685.16 101.24,684.90 102.20,684.64 103.17,684.39 104.14,684.14 105.11,683.89 106.08,683.65 107.05,683.40 108.02,683.16 108.99,682.92 109.96,682.68 110.94,682.45 111.91,682.22 112.89,682.00 113.86,681.78 114.84,681.56 115.82,681.34 116.79,681.13 117.77,680.92 118.75,680.72 119.73,680.51 120.71,680.31 121.69,680.12 122.68,679.92 123.66,679.73 124.64,679.55 125.63,679.37 126.61,679.19 127.60,679.03 128.59,678.87 129.58,678.72 130.57,678.58 131.56,678.45 132.55,678.33 133.54,678.23 134.54,678.14 135.54,678.07 136.53,678.01 137.53,677.96 138.53,677.94 139.53,677.93 140.53,677.93 141.53,677.95 142.53,677.99 143.52,678.03 144.52,678.09 145.52,678.16 146.52,678.24 147.51,678.33 148.51,678.43 149.50,678.54 150.49,678.66 151.48,678.79 152.47,678.93 153.46,679.09 154.45,679.25 155.43,679.41 156.41,679.57 157.40,679.73 158.38,679.87 159.36,679.99 160.35,680.09 161.34,680.15 162.33,680.18 163.32,680.17 164.31,680.13 165.30,680.06 166.29,679.96 167.27,679.83 168.26,679.68 169.24,679.51 170.22,679.33 171.20,679.13 172.18,678.92 173.16,678.70 174.13,678.47 175.10,678.23 176.07,677.99 177.04,677.73 178.00,677.47 178.97,677.20 179.93,676.92 180.88,676.63 181.84,676.33 182.79,676.02 183.74,675.70 184.68,675.37 185.62,675.04 186.56,674.69 187.49,674.33 188.42,673.95 189.34,673.57 190.26,673.18 191.18,672.77 192.08,672.35 192.99,671.92 193.89,671.48 194.78,671.03 195.67,670.57 196.55,670.10 197.43,669.62 198.30,669.13 199.17,668.64 200.03,668.14 200.90,667.63 201.75,667.11 202.61,666.59 203.46,666.07 204.31,665.54 205.16,665.01 206.00,664.47 206.85,663.93 207.69,663.39 208.53,662.85 209.37,662.30 210.21,661.76 211.05,661.21 211.88,660.66 212.72,660.11 213.56,659.56 214.39,659.01 215.23,658.46 216.06,657.91 216.90,657.35 217.73,656.80 218.56,656.24 219.39,655.68 220.21,655.11 221.04,654.54 221.86,653.98 222.68,653.40 223.50,652.83 224.32,652.25 225.14,651.68 225.96,651.10 226.77,650.52 227.59,649.94 228.40,649.35 229.21,648.77 230.03,648.19 230.84,647.60 231.65,647.02 232.47,646.44 233.28,645.85 234.10,645.27 234.91,644.69 235.73,644.11 236.55,643.53 237.36,642.96 238.18,642.38 239.00,641.81 239.83,641.24 240.65,640.67 241.47,640.10 242.30,639.54 243.13,638.97 243.96,638.41 244.79,637.85 245.62,637.29 246.45,636.73 247.28,636.18 248.11,635.62 248.94,635.07 249.78,634.51 250.61,633.96 251.45,633.41 252.28,632.85 253.12,632.30 253.95,631.75 254.79,631.20 255.62,630.64 256.46,630.09 257.29,629.54 258.12,628.98 258.96,628.43 259.79,627.88 260.62,627.32 261.45,626.76 262.29,626.20 263.12,625.64 263.94,625.08 264.77,624.52 265.60,623.95 266.42,623.38 267.24,622.81 268.06,622.24 268.88,621.66 269.70,621.08 270.51,620.50 271.32,619.92 272.14,619.33 272.95,618.74 273.75,618.15 274.56,617.56 275.37,616.97 276.17,616.37 276.98,615.78 277.78,615.18 278.59,614.59 279.39,613.99 280.19,613.40 281.00,612.80" stroke="#2e8b48" stroke-width="1.3" fill="none" stroke-linejoin="round" stroke-linecap="round"/>
<polyline points="50.00,814.20 50.29,813.24 50.57,812.28 50.86,811.32 51.14,810.37 51.42,809.41 51.71,808.45 51.99,807.49 52.28,806.53 52.56,805.57 52.84,804.61 53.13,803.65 53.41,802.69 53.70,801.73 53.98,800.78 54.27,799.82 54.56,798.86 54.84,797.90 55.13,796.94 55.42,795.99 55.71,795.03 56.01,794.07 56.30,793.12 56.59,792.16 56.89,791.21 57.19,790.25 57.48,789.30 57.78,788.34 58.08,787.39 58.38,786.43 58.68,785.48 58.98,784.52 59.28,783.57 59.59,782.62 59.89,781.66 60.19,780.71 60.50,779.76 60.81,778.81 61.11,777.86 61.42,776.90 61.74,775.95 62.05,775.01 62.37,774.06 62.69,773.11 63.01,772.16 63.33,771.22 63.66,770.27 63.99,769.33 64.33,768.38 64.66,767.44 65.00,766.50 65.34,765.56 65.68,764.62 66.03,763.68 66.38,762.74 66.73,761.81 67.08,760.87 67.43,759.94 67.79,759.00 68.14,758.07 68.50,757.13 68.86,756.20 69.22,755.27 69.59,754.33 69.95,753.40 70.31,752.47 70.68,751.54 71.04,750.61 71.41,749.68 71.78,748.75 72.15,747.82 72.52,746.89 72.89,745.96 73.26,745.03 73.64,744.11 74.01,743.18 74.39,742.25 74.76,741.32 75.14,740.40 75.52,739.47 75.90,738.55 76.28,737.62 76.67,736.70 77.05,735.78 77.44,734.86 77.83,733.94 78.23,733.02 78.62,732.10 79.03,731.18 79.43,730.27 79.84,729.36 80.26,728.45 80.69,727.54 81.12,726.64 81.56,725.75 82.01,724.85 82.46,723.96 82.93,723.08 83.41,722.20 83.89,721.33 84.38,720.45 84.87,719.59 85.37,718.72 85.87,717.85 86.37,716.99 86.87,716.12 87.37,715.25 87.87,714.39 88.37,713.52 88.87,712.65 89.37,711.79 89.87,710.93 90.38,710.07 90.90,709.21 91.42,708.36 91.95,707.52 92.50,706.68 93.05,705.85 93.62,705.03 94.20,704.21 94.79,703.40 95.39,702.61 96.00,701.81 96.61,701.03 97.24,700.25 97.87,699.47 98.50,698.70 99.15,697.93 99.79,697.17 100.45,696.41 101.10,695.66 101.76,694.91 102.43,694.16 103.09,693.41 103.76,692.67 104.44,691.93 105.12,691.20 105.80,690.47 106.48,689.74 107.17,689.01 107.86,688.29 108.56,687.58 109.27,686.87 109.97,686.16 110.69,685.46 111.41,684.77 112.13,684.08 112.87,683.40 113.61,682.73 114.36,682.07 115.11,681.42 115.87,680.77 116.64,680.13 117.42,679.50 118.20,678.88 118.98,678.26 119.77,677.65 120.57,677.03 121.36,676.43 122.15,675.82 122.95,675.21 123.74,674.60 124.53,673.99 125.32,673.37 126.10,672.75 126.88,672.12 127.65,671.49 128.42,670.85 129.18,670.21 129.94,669.55 130.69,668.89 131.44,668.23 132.18,667.56 132.92,666.88 133.65,666.20 134.38,665.52 135.11,664.84 135.84,664.15 136.56,663.46 137.29,662.77 138.01,662.08 138.73,661.39 139.46,660.70 140.18,660.01 140.91,659.32 141.64,658.64 142.37,657.95 143.10,657.27 143.83,656.59 144.57,655.91 145.30,655.23 146.04,654.56 146.77,653.88 147.51,653.20 148.25,652.53 148.98,651.85 149.72,651.17 150.46,650.50 151.19,649.82 151.93,649.15 152.67,648.47 153.41,647.80 154.16,647.13 154.90,646.47 155.65,645.80 156.40,645.14 157.16,644.49 157.92,643.84 158.68,643.19 159.45,642.55 160.22,641.92 161.00,641.29 161.78,640.66 162.57,640.05 163.36,639.44 164.15,638.83 164.96,638.23 165.76,637.64 166.57,637.06 167.39,636.48 168.20,635.90 169.02,635.33 169.85,634.77 170.68,634.20 171.51,633.65 172.34,633.10 173.18,632.55 174.02,632.00 174.86,631.47 175.70,630.93 176.55,630.40 177.40,629.88 178.26,629.36 179.12,628.84 179.98,628.34 180.84,627.83 181.71,627.34 182.58,626.84 183.45,626.36 184.33,625.88 185.21,625.41 186.10,624.95 186.99,624.49 187.88,624.05 188.78,623.61 189.68,623.17 190.59,622.75 191.50,622.34 192.41,621.93 193.33,621.54 194.25,621.15 195.18,620.78 196.11,620.41 197.04,620.05 197.97,619.70 198.91,619.36 199.86,619.02 200.80,618.70 201.75,618.38 202.70,618.07 203.65,617.77 204.61,617.48 205.57,617.20 206.53,616.92 207.49,616.66 208.46,616.40 209.43,616.14 210.40,615.90 211.37,615.66 212.34,615.43 213.31,615.21 214.29,614.99 215.27,614.79 216.25,614.59 217.23,614.40 218.21,614.22 219.20,614.05 220.18,613.89 221.17,613.73 222.16,613.59 223.15,613.46 224.14,613.33 225.14,613.21 226.13,613.11 227.12,613.00 228.12,612.91 229.12,612.82 230.11,612.74 231.11,612.67 232.11,612.59 233.10,612.53 234.10,612.47 235.10,612.41 236.10,612.35 237.10,612.30 238.10,612.25 239.10,612.21 240.10,612.16 241.09,612.12 242.09,612.09 243.09,612.06 244.09,612.03 245.09,612.00 246.09,611.98 247.09,611.97 248.09,611.96 249.09,611.95 250.09,611.95 251.09,611.95 252.09,611.95 253.09,611.96 254.09,611.97 255.09,611.98 256.09,612.00 257.09,612.02 258.09,612.04 259.09,612.06 260.09,612.09 261.09,612.12 262.09,612.16 263.09,612.20 264.09,612.24 265.09,612.29 266.09,612.34 267.09,612.40 268.08,612.47 269.08,612.54 270.08,612.62 271.07,612.71 272.07,612.81 273.06,612.92 274.05,613.03 275.05,613.15 276.04,613.27 277.03,613.39 278.02,613.52 279.02,613.64 280.01,613.77 281.00,613.90" stroke="#2a75b8" stroke-width="1.3" fill="none" stroke-linejoin="round" stroke-linecap="round"/>
<polyline points="50.00,823.00 50.29,822.04 50.58,821.08 50.87,820.12 51.16,819.17 51.45,818.21 51.74,817.25 52.02,816.29 52.31,815.33 52.60,814.37 52.88,813.41 53.17,812.45 53.45,811.49 53.73,810.53 54.01,809.57 54.29,808.61 54.56,807.64 54.83,806.68 55.10,805.72 55.36,804.75 55.62,803.78 55.88,802.82 56.14,801.85 56.40,800.88 56.65,799.91 56.90,798.94 57.15,797.98 57.40,797.01 57.65,796.04 57.90,795.07 58.15,794.10 58.40,793.13 58.65,792.16 58.90,791.19 59.16,790.22 59.41,789.25 59.67,788.29 59.93,787.32 60.19,786.35 60.45,785.39 60.72,784.42 60.99,783.46 61.26,782.49 61.53,781.53 61.81,780.57 62.09,779.61 62.38,778.65 62.66,777.69 62.95,776.73 63.25,775.77 63.54,774.82 63.84,773.86 64.14,772.91 64.44,771.95 64.74,771.00 65.05,770.04 65.35,769.09 65.66,768.14 65.97,767.18 66.28,766.23 66.59,765.28 66.90,764.33 67.22,763.38 67.53,762.43 67.84,761.48 68.16,760.53 68.47,759.58 68.79,758.63 69.11,757.68 69.43,756.73 69.74,755.78 70.06,754.83 70.38,753.88 70.70,752.93 71.03,751.99 71.35,751.04 71.67,750.09 72.00,749.14 72.33,748.20 72.65,747.25 72.98,746.31 73.31,745.36 73.65,744.42 73.98,743.47 74.31,742.53 74.65,741.59 74.98,740.64 75.32,739.70 75.66,738.76 75.99,737.81 76.33,736.87 76.67,735.93 77.00,734.99 77.34,734.04 77.67,733.10 78.01,732.16 78.35,731.21 78.68,730.27 79.02,729.33 79.35,728.38 79.69,727.44 80.02,726.50 80.36,725.55 80.70,724.61 81.03,723.67 81.37,722.73 81.71,721.78 82.05,720.84 82.39,719.90 82.73,718.96 83.07,718.02 83.42,717.08 83.76,716.14 84.11,715.20 84.46,714.26 84.81,713.32 85.16,712.38 85.51,711.45 85.87,710.51 86.23,709.58 86.60,708.65 86.96,707.71 87.33,706.78 87.70,705.85 88.07,704.92 88.45,704.00 88.83,703.07 89.21,702.14 89.59,701.22 89.98,700.30 90.37,699.38 90.77,698.46 91.18,697.55 91.59,696.63 92.01,695.73 92.44,694.82 92.88,693.92 93.33,693.03 93.79,692.14 94.26,691.26 94.75,690.39 95.25,689.53 95.77,688.67 96.30,687.83 96.85,687.00 97.41,686.17 97.99,685.36 98.58,684.55 99.19,683.76 99.81,682.97 100.43,682.19 101.06,681.42 101.70,680.64 102.34,679.87 102.98,679.10 103.61,678.33 104.25,677.56 104.88,676.78 105.51,676.00 106.13,675.22 106.75,674.43 107.36,673.64 107.97,672.84 108.58,672.05 109.18,671.25 109.79,670.45 110.39,669.66 111.00,668.86 111.61,668.07 112.22,667.28 112.84,666.49 113.47,665.71 114.10,664.94 114.75,664.18 115.40,663.43 116.07,662.69 116.75,661.97 117.46,661.28 118.19,660.60 118.93,659.96 119.71,659.35 120.50,658.76 121.32,658.20 122.16,657.67 123.01,657.16 123.88,656.68 124.76,656.21 125.65,655.75 126.54,655.30 127.44,654.87 128.34,654.44 129.25,654.01 130.16,653.59 131.07,653.17 131.98,652.76 132.89,652.34 133.80,651.93 134.71,651.52 135.62,651.10 136.53,650.69 137.44,650.27 138.35,649.85 139.26,649.43 140.17,649.00 141.07,648.57 141.97,648.14 142.87,647.70 143.77,647.25 144.66,646.80 145.55,646.35 146.44,645.89 147.33,645.42 148.21,644.95 149.09,644.48 149.97,644.00 150.85,643.51 151.72,643.02 152.59,642.53 153.47,642.04 154.34,641.55 155.21,641.05 156.08,640.56 156.95,640.06 157.82,639.57 158.69,639.07 159.56,638.58 160.43,638.09 161.31,637.60 162.18,637.12 163.06,636.63 163.94,636.15 164.82,635.68 165.70,635.20 166.58,634.72 167.46,634.25 168.34,633.77 169.22,633.30 170.10,632.82 170.98,632.35 171.87,631.88 172.75,631.40 173.63,630.93 174.52,630.46 175.40,629.99 176.29,629.52 177.17,629.06 178.06,628.60 178.95,628.14 179.84,627.69 180.74,627.24 181.63,626.79 182.53,626.35 183.43,625.91 184.34,625.49 185.24,625.06 186.15,624.65 187.07,624.24 187.98,623.84 188.90,623.44 189.83,623.06 190.75,622.68 191.68,622.31 192.62,621.95 193.55,621.59 194.49,621.25 195.43,620.91 196.38,620.57 197.32,620.25 198.27,619.93 199.22,619.62 200.18,619.31 201.13,619.02 202.09,618.72 203.05,618.44 204.01,618.16 204.97,617.89 205.94,617.62 206.90,617.36 207.87,617.10 208.84,616.86 209.81,616.61 210.78,616.38 211.76,616.14 212.73,615.92 213.71,615.70 214.69,615.48 215.66,615.27 216.64,615.07 217.62,614.87 218.61,614.68 219.59,614.49 220.57,614.31 221.56,614.14 222.55,613.97 223.53,613.81 224.52,613.66 225.51,613.51 226.51,613.38 227.50,613.25 228.49,613.12 229.48,613.01 230.48,612.90 231.48,612.80 232.47,612.71 233.47,612.62 234.47,612.54 235.46,612.46 236.46,612.39 237.46,612.33 238.46,612.27 239.46,612.22 240.46,612.17 241.46,612.12 242.46,612.08 243.46,612.04 244.46,612.01 245.46,611.98 246.46,611.96 247.46,611.94 248.46,611.92 249.47,611.91 250.47,611.90 251.47,611.89 252.47,611.89 253.47,611.89 254.47,611.89 255.47,611.89 256.47,611.89 257.47,611.90 258.47,611.90 259.48,611.91 260.48,611.92 261.48,611.93 262.48,611.94 263.48,611.95 264.48,611.96 265.48,611.97 266.48,611.98 267.48,611.99 268.49,612.00 269.49,612.01 270.49,612.02 271.49,612.03 272.49,612.04 273.49,612.05 274.49,612.06 275.49,612.07 276.49,612.07 277.50,612.08 278.50,612.09 279.50,612.09 280.50,612.10 281.00,612.10" stroke="#b5452f" stroke-width="1.3" fill="none" stroke-linejoin="round" stroke-linecap="round"/>
<polyline points="50.00,799.00 50.23,798.03 50.46,797.05 50.69,796.08 50.92,795.11 51.15,794.13 51.38,793.16 51.61,792.19 51.84,791.21 52.07,790.24 52.31,789.27 52.54,788.29 52.77,787.32 53.00,786.35 53.24,785.38 53.47,784.40 53.71,783.43 53.94,782.46 54.18,781.49 54.41,780.51 54.65,779.54 54.88,778.57 55.12,777.60 55.36,776.63 55.60,775.66 55.84,774.69 56.09,773.72 56.34,772.75 56.59,771.78 56.85,770.81 57.12,769.85 57.39,768.89 57.66,767.93 57.95,766.97 58.24,766.01 58.53,765.06 58.84,764.10 59.15,763.15 59.46,762.20 59.78,761.25 60.10,760.31 60.41,759.36 60.73,758.41 61.05,757.46 61.37,756.51 61.68,755.56 61.99,754.61 62.30,753.66 62.61,752.71 62.91,751.75 63.21,750.80 63.51,749.85 63.81,748.89 64.10,747.94 64.39,746.98 64.69,746.02 64.98,745.06 65.26,744.11 65.55,743.15 65.83,742.19 66.11,741.23 66.39,740.27 66.67,739.31 66.94,738.34 67.21,737.38 67.48,736.42 67.74,735.45 68.00,734.49 68.26,733.52 68.53,732.56 68.79,731.59 69.05,730.63 69.31,729.66 69.58,728.70 69.85,727.73 70.12,726.77 70.40,725.81 70.69,724.85 70.98,723.90 71.28,722.94 71.58,721.99 71.89,721.04 72.21,720.09 72.53,719.15 72.86,718.20 73.20,717.26 73.55,716.32 73.90,715.39 74.26,714.45 74.62,713.52 74.99,712.59 75.37,711.67 75.75,710.74 76.14,709.82 76.53,708.90 76.93,707.99 77.34,707.07 77.75,706.16 78.17,705.25 78.59,704.35 79.02,703.44 79.46,702.54 79.90,701.65 80.35,700.75 80.80,699.86 81.26,698.97 81.73,698.09 82.20,697.21 82.68,696.33 83.16,695.46 83.66,694.59 84.16,693.72 84.66,692.86 85.18,692.00 85.70,691.15 86.24,690.31 86.78,689.47 87.34,688.64 87.90,687.81 88.48,687.00 89.07,686.19 89.67,685.40 90.29,684.61 90.91,683.84 91.56,683.07 92.21,682.32 92.87,681.57 93.55,680.83 94.23,680.10 94.92,679.38 95.61,678.66 96.32,677.95 97.02,677.25 97.74,676.54 98.45,675.85 99.17,675.15 99.89,674.46 100.62,673.77 101.35,673.09 102.08,672.40 102.81,671.72 103.55,671.04 104.28,670.37 105.02,669.69 105.76,669.02 106.51,668.35 107.25,667.68 108.00,667.01 108.74,666.35 109.49,665.69 110.24,665.03 111.00,664.37 111.75,663.71 112.51,663.06 113.27,662.41 114.03,661.77 114.80,661.12 115.57,660.48 116.34,659.84 117.11,659.21 117.88,658.57 118.66,657.94 119.44,657.31 120.22,656.69 121.00,656.06 121.78,655.43 122.56,654.81 123.34,654.19 124.12,653.56 124.90,652.93 125.68,652.31 126.46,651.68 127.23,651.05 128.00,650.41 128.77,649.77 129.54,649.12 130.30,648.48 131.05,647.82 131.81,647.17 132.56,646.51 133.32,645.86 134.08,645.21 134.84,644.56 135.61,643.93 136.39,643.30 137.17,642.68 137.96,642.07 138.77,641.48 139.57,640.89 140.39,640.31 141.21,639.74 142.04,639.18 142.86,638.62 143.69,638.06 144.53,637.51 145.36,636.96 146.20,636.41 147.04,635.87 147.88,635.33 148.72,634.79 149.57,634.25 150.41,633.72 151.26,633.19 152.11,632.66 152.97,632.14 153.82,631.62 154.68,631.11 155.54,630.60 156.40,630.09 157.27,629.59 158.14,629.10 159.01,628.61 159.89,628.14 160.77,627.66 161.66,627.20 162.55,626.75 163.44,626.30 164.34,625.86 165.24,625.44 166.15,625.02 167.07,624.62 167.98,624.22 168.91,623.83 169.83,623.46 170.76,623.09 171.70,622.74 172.63,622.39 173.57,622.05 174.52,621.73 175.47,621.41 176.42,621.09 177.37,620.79 178.32,620.49 179.28,620.20 180.24,619.92 181.20,619.64 182.16,619.37 183.13,619.11 184.09,618.85 185.06,618.59 186.03,618.34 187.00,618.09 187.97,617.85 188.94,617.61 189.91,617.38 190.88,617.15 191.86,616.93 192.83,616.71 193.81,616.49 194.79,616.29 195.77,616.08 196.75,615.89 197.73,615.70 198.71,615.51 199.70,615.33 200.68,615.16 201.67,614.99 202.66,614.83 203.64,614.67 204.63,614.52 205.62,614.38 206.61,614.23 207.60,614.10 208.59,613.96 209.58,613.84 210.58,613.71 211.57,613.60 212.56,613.48 213.56,613.37 214.55,613.27 215.55,613.17 216.54,613.07 217.54,612.98 218.54,612.90 219.53,612.82 220.53,612.75 221.53,612.68 222.53,612.62 223.52,612.56 224.52,612.51 225.52,612.46 226.52,612.41 227.52,612.37 228.52,612.34 229.52,612.31 230.52,612.28 231.52,612.25 232.52,612.23 233.52,612.21 234.52,612.19 235.52,612.17 236.52,612.16 237.52,612.14 238.52,612.13 239.52,612.12 240.52,612.11 241.52,612.10 242.52,612.09 243.52,612.08 244.52,612.07 245.52,612.07 246.52,612.06 247.52,612.05 248.52,612.05 249.52,612.05 250.52,612.05 251.52,612.06 252.52,612.06 253.52,612.07 254.52,612.08 255.52,612.10 256.52,612.12 257.52,612.15 258.52,612.18 259.52,612.22 260.52,612.27 261.52,612.32 262.52,612.39 263.51,612.46 264.51,612.55 265.50,612.66 266.49,612.78 267.48,612.92 268.46,613.07 269.44,613.25 270.42,613.44 271.40,613.66 272.37,613.89 273.33,614.14 274.30,614.40 275.26,614.67 276.22,614.95 277.17,615.23 278.13,615.52 279.09,615.82 280.04,616.11 281.00,616.40" stroke="#e38f2e" stroke-width="1.3" fill="none" stroke-linejoin="round" stroke-linecap="round"/>
<rect x="63.30" y="801.40" width="222.00" height="56.50" fill="#fff" stroke="#111" stroke-width="1.6"/>
<line x1="63.30" y1="815.30" x2="285.30" y2="815.30" stroke="#333" stroke-width="0.9"/>
<line x1="63.30" y1="829.50" x2="285.30" y2="829.50" stroke="#333" stroke-width="0.9"/>
<line x1="63.30" y1="843.40" x2="285.30" y2="843.40" stroke="#333" stroke-width="0.9"/>
<line x1="125.20" y1="801.40" x2="125.20" y2="857.90" stroke="#333" stroke-width="0.9"/>
<line x1="205.20" y1="801.40" x2="205.20" y2="857.90" stroke="#333" stroke-width="0.9"/>
<text x="165.30" y="811.95" font-size="8" text-anchor="middle" fill="#222" font-weight="bold">Training Set</text>
<text x="245.80" y="811.95" font-size="8" text-anchor="middle" fill="#222" font-weight="bold">Validation Set</text>
<text x="68.70" y="825.05" font-size="8" text-anchor="start" fill="#222" font-weight="bold">AUC at 1 year</text>
<line x1="128.70" y1="822.40" x2="135.90" y2="822.40" stroke="#b5452f" stroke-width="1.4"/>
<text x="136.30" y="825.25" font-size="8.6" text-anchor="start" fill="#b5452f" font-weight="normal" stroke="#b5452f" stroke-width="0.12">0.819(0.782-0.856)</text>
<line x1="208.70" y1="822.40" x2="215.90" y2="822.40" stroke="#e2509b" stroke-width="1.4"/>
<text x="216.30" y="825.25" font-size="8.6" text-anchor="start" fill="#e2509b" font-weight="normal" stroke="#e2509b" stroke-width="0.12">0.742(0.668-0.815)</text>
<text x="68.70" y="839.05" font-size="8" text-anchor="start" fill="#222" font-weight="bold">AUC at 3 years</text>
<line x1="128.70" y1="836.40" x2="135.90" y2="836.40" stroke="#2a75b8" stroke-width="1.4"/>
<text x="136.30" y="839.25" font-size="8.6" text-anchor="start" fill="#2a75b8" font-weight="normal" stroke="#2a75b8" stroke-width="0.12">0.805(0.767-0.843)</text>
<line x1="208.70" y1="836.40" x2="215.90" y2="836.40" stroke="#7b9db5" stroke-width="1.4"/>
<text x="216.30" y="839.25" font-size="8.6" text-anchor="start" fill="#7b9db5" font-weight="normal" stroke="#7b9db5" stroke-width="0.12">0.765(0.701-0.830)</text>
<text x="68.70" y="853.25" font-size="8" text-anchor="start" fill="#222" font-weight="bold">AUC at 5 years</text>
<line x1="128.70" y1="850.60" x2="135.90" y2="850.60" stroke="#e38f2e" stroke-width="1.4"/>
<text x="136.30" y="853.45" font-size="8.6" text-anchor="start" fill="#e38f2e" font-weight="normal" stroke="#e38f2e" stroke-width="0.12">0.857(0.823-0.890)</text>
<line x1="208.70" y1="850.60" x2="215.90" y2="850.60" stroke="#2e8b48" stroke-width="1.4"/>
<text x="216.30" y="853.45" font-size="8.6" text-anchor="start" fill="#2e8b48" font-weight="normal" stroke="#2e8b48" stroke-width="0.12">0.762(0.697-0.828)</text>
<text x="307.60" y="619.60" font-size="23.5" text-anchor="start" fill="#111" font-weight="normal" stroke="#111" stroke-width="0.5">f</text>
<rect x="332.20" y="602.20" width="81.50" height="14.80" fill="#fff" stroke="#222" stroke-width="1"/>
<rect x="419.50" y="602.20" width="81.30" height="14.80" fill="#fff" stroke="#222" stroke-width="1"/>
<rect x="507.50" y="602.20" width="80.90" height="14.80" fill="#fff" stroke="#222" stroke-width="1"/>
<text x="373.00" y="612.25" font-size="8" text-anchor="middle" fill="#222" font-weight="normal" stroke="#222" stroke-width="0.12">12</text>
<text x="460.20" y="612.25" font-size="8" text-anchor="middle" fill="#222" font-weight="normal" stroke="#222" stroke-width="0.12">36</text>
<text x="548.00" y="612.25" font-size="8" text-anchor="middle" fill="#222" font-weight="normal" stroke="#222" stroke-width="0.12">60</text>
<line x1="332.20" y1="617.00" x2="332.20" y2="834.30" stroke="#222" stroke-width="1"/>
<line x1="330.00" y1="626.60" x2="332.20" y2="626.60" stroke="#222" stroke-width="0.8"/>
<text x="327.60" y="629.25" font-size="8" text-anchor="end" fill="#222" font-weight="normal" stroke="#222" stroke-width="0.12">0.6</text>
<line x1="330.00" y1="674.50" x2="332.20" y2="674.50" stroke="#222" stroke-width="0.8"/>
<text x="327.60" y="677.15" font-size="8" text-anchor="end" fill="#222" font-weight="normal" stroke="#222" stroke-width="0.12">0.4</text>
<line x1="330.00" y1="722.40" x2="332.20" y2="722.40" stroke="#222" stroke-width="0.8"/>
<text x="327.60" y="725.05" font-size="8" text-anchor="end" fill="#222" font-weight="normal" stroke="#222" stroke-width="0.12">0.2</text>
<line x1="330.00" y1="770.30" x2="332.20" y2="770.30" stroke="#222" stroke-width="0.8"/>
<text x="327.60" y="772.95" font-size="8" text-anchor="end" fill="#222" font-weight="normal" stroke="#222" stroke-width="0.12">0.0</text>
<line x1="330.00" y1="818.20" x2="332.20" y2="818.20" stroke="#222" stroke-width="0.8"/>
<text x="327.60" y="820.85" font-size="8" text-anchor="end" fill="#222" font-weight="normal" stroke="#222" stroke-width="0.12">-0.2</text>
<text x="305.50" y="728.84" font-size="9.8" text-anchor="middle" fill="#222" font-weight="normal" transform="rotate(-90 305.50 725.60)" stroke="#222" stroke-width="0.12">Net Benefit</text>
<line x1="332.20" y1="834.30" x2="413.50" y2="834.30" stroke="#222" stroke-width="1"/>
<line x1="334.80" y1="834.30" x2="334.80" y2="836.50" stroke="#222" stroke-width="0.8"/>
<text x="334.80" y="844.95" font-size="7.4" text-anchor="middle" fill="#222" font-weight="normal" stroke="#222" stroke-width="0.12">0.00</text>
<line x1="353.70" y1="834.30" x2="353.70" y2="836.50" stroke="#222" stroke-width="0.8"/>
<text x="353.70" y="844.95" font-size="7.4" text-anchor="middle" fill="#222" font-weight="normal" stroke="#222" stroke-width="0.12">0.25</text>
<line x1="372.60" y1="834.30" x2="372.60" y2="836.50" stroke="#222" stroke-width="0.8"/>
<text x="372.60" y="844.95" font-size="7.4" text-anchor="middle" fill="#222" font-weight="normal" stroke="#222" stroke-width="0.12">0.50</text>
<line x1="391.50" y1="834.30" x2="391.50" y2="836.50" stroke="#222" stroke-width="0.8"/>
<text x="391.50" y="844.95" font-size="7.4" text-anchor="middle" fill="#222" font-weight="normal" stroke="#222" stroke-width="0.12">0.75</text>
<line x1="410.40" y1="834.30" x2="410.40" y2="836.50" stroke="#222" stroke-width="0.8"/>
<text x="410.40" y="844.95" font-size="7.4" text-anchor="middle" fill="#222" font-weight="normal" stroke="#222" stroke-width="0.12">1.00</text>
<line x1="335.10" y1="770.30" x2="410.40" y2="770.30" stroke="#2e8b57" stroke-width="1.7" stroke-dasharray="0.01,4.55" stroke-linecap="round"/>
<line x1="419.50" y1="834.30" x2="501.00" y2="834.30" stroke="#222" stroke-width="1"/>
<line x1="422.50" y1="834.30" x2="422.50" y2="836.50" stroke="#222" stroke-width="0.8"/>
<text x="422.50" y="844.95" font-size="7.4" text-anchor="middle" fill="#222" font-weight="normal" stroke="#222" stroke-width="0.12">0.00</text>
<line x1="441.40" y1="834.30" x2="441.40" y2="836.50" stroke="#222" stroke-width="0.8"/>
<text x="441.40" y="844.95" font-size="7.4" text-anchor="middle" fill="#222" font-weight="normal" stroke="#222" stroke-width="0.12">0.25</text>
<line x1="460.30" y1="834.30" x2="460.30" y2="836.50" stroke="#222" stroke-width="0.8"/>
<text x="460.30" y="844.95" font-size="7.4" text-anchor="middle" fill="#222" font-weight="normal" stroke="#222" stroke-width="0.12">0.50</text>
<line x1="479.20" y1="834.30" x2="479.20" y2="836.50" stroke="#222" stroke-width="0.8"/>
<text x="479.20" y="844.95" font-size="7.4" text-anchor="middle" fill="#222" font-weight="normal" stroke="#222" stroke-width="0.12">0.75</text>
<line x1="498.10" y1="834.30" x2="498.10" y2="836.50" stroke="#222" stroke-width="0.8"/>
<text x="498.10" y="844.95" font-size="7.4" text-anchor="middle" fill="#222" font-weight="normal" stroke="#222" stroke-width="0.12">1.00</text>
<line x1="422.80" y1="770.30" x2="498.10" y2="770.30" stroke="#2e8b57" stroke-width="1.7" stroke-dasharray="0.01,4.55" stroke-linecap="round"/>
<line x1="507.00" y1="834.30" x2="588.80" y2="834.30" stroke="#222" stroke-width="1"/>
<line x1="510.20" y1="834.30" x2="510.20" y2="836.50" stroke="#222" stroke-width="0.8"/>
<text x="510.20" y="844.95" font-size="7.4" text-anchor="middle" fill="#222" font-weight="normal" stroke="#222" stroke-width="0.12">0.00</text>
<line x1="529.10" y1="834.30" x2="529.10" y2="836.50" stroke="#222" stroke-width="0.8"/>
<text x="529.10" y="844.95" font-size="7.4" text-anchor="middle" fill="#222" font-weight="normal" stroke="#222" stroke-width="0.12">0.25</text>
<line x1="548.00" y1="834.30" x2="548.00" y2="836.50" stroke="#222" stroke-width="0.8"/>
<text x="548.00" y="844.95" font-size="7.4" text-anchor="middle" fill="#222" font-weight="normal" stroke="#222" stroke-width="0.12">0.50</text>
<line x1="566.90" y1="834.30" x2="566.90" y2="836.50" stroke="#222" stroke-width="0.8"/>
<text x="566.90" y="844.95" font-size="7.4" text-anchor="middle" fill="#222" font-weight="normal" stroke="#222" stroke-width="0.12">0.75</text>
<line x1="585.80" y1="834.30" x2="585.80" y2="836.50" stroke="#222" stroke-width="0.8"/>
<text x="585.80" y="844.95" font-size="7.4" text-anchor="middle" fill="#222" font-weight="normal" stroke="#222" stroke-width="0.12">1.00</text>
<line x1="510.50" y1="770.30" x2="585.80" y2="770.30" stroke="#2e8b57" stroke-width="1.7" stroke-dasharray="0.01,4.55" stroke-linecap="round"/>
<text x="460.40" y="857.04" font-size="9.8" text-anchor="middle" fill="#222" font-weight="normal" stroke="#222" stroke-width="0.12">Risk Threshold</text>
<polyline points="334.80,673.30 336.10,675.79 337.39,678.36 338.69,681.02 339.98,683.79 341.28,686.65 342.57,689.63 343.87,692.72 345.16,695.94 346.46,699.28 347.75,702.77 349.05,706.40 350.34,710.18 351.64,714.14 352.93,718.27 354.23,722.59 355.52,727.12 356.82,731.87 358.12,736.85 359.41,742.08 360.71,747.59 362.00,753.39 363.30,759.51 364.59,765.98 365.89,772.82 367.18,780.08 368.48,787.78 369.77,795.97 371.07,804.70 372.36,814.03 373.66,824.02" stroke="#e38f2e" stroke-width="1.6" fill="none" stroke-linejoin="round" stroke-dasharray="4.6,3"/>
<polyline points="422.50,646.96 424.02,649.34 425.53,651.81 427.05,654.40 428.57,657.09 430.09,659.91 431.60,662.86 433.12,665.94 434.64,669.17 436.15,672.56 437.67,676.12 439.19,679.86 440.70,683.80 442.22,687.95 443.74,692.34 445.26,696.98 446.77,701.89 448.29,707.10 449.81,712.64 451.32,718.53 452.84,724.83 454.36,731.56 455.87,738.77 457.39,746.52 458.91,754.87 460.43,763.89 461.94,773.67 463.46,784.31 464.98,795.92 466.49,808.64 468.01,822.65" stroke="#e38f2e" stroke-width="1.6" fill="none" stroke-linejoin="round" stroke-dasharray="4.6,3"/>
<polyline points="510.20,639.29 511.78,641.61 513.36,644.02 514.93,646.54 516.51,649.17 518.09,651.93 519.67,654.82 521.24,657.85 522.82,661.03 524.40,664.38 525.98,667.90 527.55,671.62 529.13,675.54 530.71,679.68 532.29,684.07 533.86,688.72 535.44,693.67 537.02,698.94 538.60,704.56 540.17,710.56 541.75,717.00 543.33,723.92 544.91,731.37 546.48,739.41 548.06,748.13 549.64,757.62 551.22,767.96 552.79,779.30 554.37,791.77 555.95,805.56 557.53,820.89" stroke="#e38f2e" stroke-width="1.6" fill="none" stroke-linejoin="round" stroke-dasharray="4.6,3"/>
<polyline points="335.10,673.47 340.99,681.04 343.52,687.78 346.04,691.14 350.25,693.67 352.78,698.72 355.30,701.25 358.67,710.51 361.20,715.56 366.25,723.97 367.93,730.71 373.82,737.44 375.51,738.28 378.03,732.39 380.56,740.81 383.08,745.86 385.61,749.23 390.66,759.33 394.02,761.01 394.87,771.11 397.39,774.48 399.07,771.11 401.60,781.21 403.28,771.11 404.97,755.96 407.49,761.01 409.18,767.74" stroke="#c13b27" stroke-width="1.5" fill="none" stroke-linejoin="round"/>
<polyline points="344.36,692.83 346.04,695.35 347.73,703.77 349.41,710.51 351.94,707.14 352.78,705.45 354.46,715.56 356.99,723.97 359.51,723.13 362.88,739.12 365.40,741.65 367.93,732.39 371.30,747.54 374.66,761.01 376.35,757.64 380.56,769.43 383.08,761.01 386.45,755.12 391.50,765.22 397.39,748.38 399.92,754.28 405.81,759.33 410.02,765.22" stroke="#2373b8" stroke-width="1.5" fill="none" stroke-linejoin="round"/>
<polyline points="423.71,647.22 426.13,653.27 428.15,656.29 431.17,659.31 433.19,663.35 436.21,668.39 439.23,675.44 442.26,677.46 445.28,680.48 447.30,684.52 450.32,687.54 453.35,693.59 455.36,696.61 458.39,700.65 461.41,705.69 464.44,712.74 466.45,718.79 470.48,722.82 473.51,726.85 475.52,730.89 476.53,727.86 478.55,732.90 480.56,728.87 482.58,735.93 484.60,729.88 487.62,736.94 489.64,741.98 492.66,771.21 494.68,801.45 496.69,749.03 498.31,767.18" stroke="#c13b27" stroke-width="1.5" fill="none" stroke-linejoin="round"/>
<polyline points="447.30,637.14 449.31,639.15 451.33,646.21 453.35,658.31 455.36,657.30 457.38,668.39 459.40,674.44 461.41,676.45 465.44,644.19 468.47,656.29 470.48,672.42 473.51,680.48 475.52,686.53 478.55,700.65 482.18,719.80 484.19,701.65 487.02,728.87 488.63,705.69 490.65,720.81 492.66,724.84 494.68,734.92 496.69,742.98 498.10,764.15" stroke="#2373b8" stroke-width="1.5" fill="none" stroke-linejoin="round"/>
<polyline points="511.14,639.15 513.15,642.18 515.17,647.22 518.19,650.24 521.22,653.27 523.23,656.29 524.24,655.28 526.26,660.32 529.28,666.37 532.31,668.39 535.33,672.42 537.35,675.44 540.37,678.47 542.39,679.48 544.40,682.50 547.43,686.53 550.45,690.56 553.48,693.59 556.50,697.62 558.52,702.66 560.53,703.67 562.55,706.69 565.57,713.75 567.59,714.76 569.60,718.79 571.62,713.75 573.64,715.77 574.65,708.71 576.66,716.77 578.68,722.82 580.69,726.85 583.72,738.95 585.73,753.06 586.14,767.18" stroke="#c13b27" stroke-width="1.5" fill="none" stroke-linejoin="round"/>
<polyline points="536.74,632.50 539.36,634.11 541.38,642.18 543.40,655.28 545.41,652.26 546.82,653.27 548.44,668.39 549.44,660.32 551.46,670.40 553.48,650.24 555.49,646.21 557.51,654.27 559.52,660.32 561.54,674.44 564.56,682.50 566.58,694.60 569.60,706.69 571.62,726.85 573.64,672.42 575.65,686.53 577.67,697.62 579.69,722.82 582.71,730.89 585.73,749.03 586.34,761.13" stroke="#2373b8" stroke-width="1.5" fill="none" stroke-linejoin="round"/>
<line x1="366.80" y1="879.10" x2="375.90" y2="879.10" stroke="#c13b27" stroke-width="1.4"/>
<text x="382.00" y="881.62" font-size="7.6" text-anchor="start" fill="#222" font-weight="normal" stroke="#222" stroke-width="0.12">Training set</text>
<line x1="429.00" y1="879.10" x2="437.50" y2="879.10" stroke="#2373b8" stroke-width="1.4"/>
<text x="444.20" y="881.62" font-size="7.6" text-anchor="start" fill="#222" font-weight="normal" stroke="#222" stroke-width="0.12">Validation set</text>
<line x1="496.40" y1="879.10" x2="499.80" y2="879.10" stroke="#e38f2e" stroke-width="1.4"/>
<line x1="501.50" y1="879.10" x2="504.00" y2="879.10" stroke="#e38f2e" stroke-width="1.4"/>
<text x="511.60" y="881.62" font-size="7.6" text-anchor="start" fill="#222" font-weight="normal" stroke="#222" stroke-width="0.12">All</text>
<line x1="527.00" y1="879.10" x2="534.00" y2="879.10" stroke="#2e8b57" stroke-width="1.7" stroke-dasharray="0.01,4.5" stroke-linecap="round"/>
<text x="541.90" y="881.62" font-size="7.6" text-anchor="start" fill="#222" font-weight="normal" stroke="#222" stroke-width="0.12">None</text>
<text x="4.40" y="917.60" font-size="22" text-anchor="start" fill="#111" font-weight="normal" stroke="#111" stroke-width="0.5">g</text>
<text x="39.10" y="911.02" font-size="6.7" text-anchor="start" fill="#222" font-weight="normal" stroke="#222" stroke-width="0.12">FGS</text>
<line x1="58.60" y1="908.80" x2="66.90" y2="908.80" stroke="#c03a28" stroke-width="1.3"/>
<text x="71.50" y="911.02" font-size="6.7" text-anchor="start" fill="#222" font-weight="normal" stroke="#222" stroke-width="0.12">Low risk</text>
<line x1="101.00" y1="908.80" x2="109.80" y2="908.80" stroke="#2071b8" stroke-width="1.3"/>
<text x="113.60" y="911.02" font-size="6.7" text-anchor="start" fill="#222" font-weight="normal" stroke="#222" stroke-width="0.12">High risk</text>
<text x="156.70" y="911.02" font-size="6.7" text-anchor="start" fill="#222" font-weight="normal" stroke="#222" stroke-width="0.12">COD</text>
<line x1="176.40" y1="908.80" x2="184.40" y2="908.80" stroke="#111" stroke-width="1.3"/>
<text x="189.30" y="911.02" font-size="6.7" text-anchor="start" fill="#222" font-weight="normal" stroke="#222" stroke-width="0.12">Lymphoma</text>
<line x1="226.70" y1="908.80" x2="229.70" y2="908.80" stroke="#111" stroke-width="1.3"/>
<line x1="232.20" y1="908.80" x2="235.60" y2="908.80" stroke="#111" stroke-width="1.3"/>
<text x="240.50" y="911.02" font-size="6.7" text-anchor="start" fill="#222" font-weight="normal" stroke="#222" stroke-width="0.12">Other causes</text>
<line x1="27.80" y1="926.00" x2="27.80" y2="1167.20" stroke="#333" stroke-width="1.2"/>
<line x1="27.80" y1="1167.20" x2="292.60" y2="1167.20" stroke="#333" stroke-width="1.2"/>
<line x1="25.80" y1="1156.50" x2="27.80" y2="1156.50" stroke="#333" stroke-width="0.8"/>
<text x="24.00" y="1159.08" font-size="7.8" text-anchor="end" fill="#222" font-weight="normal" stroke="#222" stroke-width="0.12">0.0</text>
<line x1="25.80" y1="1095.70" x2="27.80" y2="1095.70" stroke="#333" stroke-width="0.8"/>
<text x="24.00" y="1098.28" font-size="7.8" text-anchor="end" fill="#222" font-weight="normal" stroke="#222" stroke-width="0.12">0.2</text>
<line x1="25.80" y1="1034.90" x2="27.80" y2="1034.90" stroke="#333" stroke-width="0.8"/>
<text x="24.00" y="1037.48" font-size="7.8" text-anchor="end" fill="#222" font-weight="normal" stroke="#222" stroke-width="0.12">0.4</text>
<line x1="25.80" y1="974.10" x2="27.80" y2="974.10" stroke="#333" stroke-width="0.8"/>
<text x="24.00" y="976.68" font-size="7.8" text-anchor="end" fill="#222" font-weight="normal" stroke="#222" stroke-width="0.12">0.6</text>
<line x1="39.90" y1="1167.20" x2="39.90" y2="1169.40" stroke="#333" stroke-width="0.8"/>
<text x="39.90" y="1176.98" font-size="7.8" text-anchor="middle" fill="#222" font-weight="normal" stroke="#222" stroke-width="0.12">0</text>
<line x1="89.20" y1="1167.20" x2="89.20" y2="1169.40" stroke="#333" stroke-width="0.8"/>
<text x="89.20" y="1176.98" font-size="7.8" text-anchor="middle" fill="#222" font-weight="normal" stroke="#222" stroke-width="0.12">50</text>
<line x1="138.50" y1="1167.20" x2="138.50" y2="1169.40" stroke="#333" stroke-width="0.8"/>
<text x="138.50" y="1176.98" font-size="7.8" text-anchor="middle" fill="#222" font-weight="normal" stroke="#222" stroke-width="0.12">100</text>
<line x1="187.80" y1="1167.20" x2="187.80" y2="1169.40" stroke="#333" stroke-width="0.8"/>
<text x="187.80" y="1176.98" font-size="7.8" text-anchor="middle" fill="#222" font-weight="normal" stroke="#222" stroke-width="0.12">150</text>
<line x1="237.10" y1="1167.20" x2="237.10" y2="1169.40" stroke="#333" stroke-width="0.8"/>
<text x="237.10" y="1176.98" font-size="7.8" text-anchor="middle" fill="#222" font-weight="normal" stroke="#222" stroke-width="0.12">200</text>
<line x1="286.40" y1="1167.20" x2="286.40" y2="1169.40" stroke="#333" stroke-width="0.8"/>
<text x="286.40" y="1176.98" font-size="7.8" text-anchor="middle" fill="#222" font-weight="normal" stroke="#222" stroke-width="0.12">250</text>
<text x="160.30" y="1187.05" font-size="9.2" text-anchor="middle" fill="#222" font-weight="normal" stroke="#222" stroke-width="0.12">Time(months)</text>
<text x="8.20" y="1054.81" font-size="9.1" text-anchor="middle" fill="#222" font-weight="normal" transform="rotate(-90 8.20 1051.80)" stroke="#222" stroke-width="0.12">Cumulative incidence of event</text>
<text x="212.30" y="1131.80" font-size="16" text-anchor="start" fill="#111" font-weight="normal" stroke="#111" stroke-width="0.12" textLength="48.3" lengthAdjust="spacingAndGlyphs">P&lt;0.001</text>
<polyline points="40.80,1156.50 40.80,1156.50 40.80,1109.60 41.90,1109.60 41.90,1097.60 43.00,1097.60 43.00,1078.00 44.10,1078.00 44.10,1060.50 45.00,1060.50 45.00,1049.60 46.00,1049.60 46.00,1038.70 47.40,1038.70 47.40,1032.20 48.30,1032.20 48.30,1027.20 49.50,1027.20 49.50,1016.60 51.80,1016.60 51.80,1013.10 53.00,1013.10 53.00,1008.40 54.20,1008.40 54.20,1001.30 56.50,1001.30 56.50,995.40 58.90,995.40 58.90,993.10 60.10,993.10 60.10,988.30 62.40,988.30 62.40,986.00 64.80,986.00 64.80,982.50 67.10,982.50 67.10,980.10 69.50,980.10 69.50,974.20 71.90,974.20 71.90,970.70 74.20,970.70 74.20,968.30 76.60,968.30 76.60,964.80 82.50,964.80 82.50,962.40 87.20,962.40 87.20,960.10 97.80,960.10 97.80,957.70 108.40,957.70 108.40,951.80 150.80,951.80 150.80,947.80 212.00,947.80 212.00,936.50 246.00,936.50 246.00,936.50" stroke="#2071b8" stroke-width="1.5" fill="none" stroke-linejoin="round" stroke-linejoin="miter"/>
<polyline points="40.40,1156.50 40.40,1156.50 40.40,1151.00 42.50,1151.00 42.50,1147.80 45.20,1147.80 45.20,1142.40 47.90,1142.40 47.90,1132.50 52.30,1132.50 52.30,1127.60 57.20,1127.60 57.20,1118.40 63.20,1118.40 63.20,1113.50 66.50,1113.50 66.50,1108.00 73.50,1108.00 73.50,1103.60 112.60,1103.60 112.60,1098.20 124.40,1098.20 124.40,1092.80 279.50,1092.80 279.50,1092.80" stroke="#c03a28" stroke-width="1.5" fill="none" stroke-linejoin="round" stroke-linejoin="miter"/>
<polyline points="40.80,1156.50 41.40,1156.50 41.40,1151.00 42.50,1151.00 42.50,1147.30 59.90,1147.30 59.90,1147.30 62.60,1147.30 62.60,1144.50 65.90,1144.50 65.90,1141.80 69.70,1141.80 69.70,1139.70 73.00,1139.70 73.00,1138.50 75.70,1138.50 75.70,1135.30 79.50,1135.30 79.50,1134.20 82.70,1134.20 82.70,1130.50 86.70,1130.50 86.70,1127.10 92.10,1127.10 92.10,1123.10 97.50,1123.10 97.50,1119.70 102.90,1119.70 102.90,1118.00 128.50,1118.00 128.50,1115.30 133.90,1115.30 133.90,1111.00 136.60,1111.00 136.60,1108.30 144.80,1108.30 144.80,1103.30 152.90,1103.30 152.90,1099.30 157.00,1099.30 157.00,1097.90 182.50,1097.90 182.50,1095.20 187.90,1095.20 187.90,1093.90 245.80,1093.90 245.80,1093.90" stroke="#2071b8" stroke-width="1.4" fill="none" stroke-linejoin="round" stroke-dasharray="3.6,2" stroke-linejoin="miter"/>
<polyline points="40.80,1156.50 54.50,1156.50 54.50,1151.00 66.50,1151.00 66.50,1146.20 74.10,1146.20 74.10,1142.40 78.50,1142.40 78.50,1141.30 80.60,1141.30 80.60,1139.10 82.70,1139.10 82.70,1136.60 84.00,1136.60 84.00,1132.50 100.20,1132.50 100.20,1127.10 102.90,1127.10 102.90,1118.40 129.20,1118.40 129.20,1111.60 155.40,1111.60 155.40,1101.50 157.40,1101.50 157.40,1096.20 188.70,1096.20 188.70,1077.70 213.00,1077.70 213.00,1054.80 279.50,1054.80 279.50,1054.80" stroke="#c03a28" stroke-width="1.4" fill="none" stroke-linejoin="round" stroke-dasharray="3.6,2" stroke-linejoin="miter"/>
<text x="305.90" y="917.60" font-size="22.6" text-anchor="start" fill="#111" font-weight="normal" stroke="#111" stroke-width="0.5">h</text>
<g shape-rendering="crispEdges">
<rect x="324.30" y="1042.50" width="2.10" height="136.30" fill="#bc3b26" stroke="none" stroke-width="1"/>
<rect x="326.10" y="1042.50" width="3.60" height="130.50" fill="#bc3b26" stroke="none" stroke-width="1"/>
<rect x="329.40" y="1042.50" width="1.70" height="126.50" fill="#bc3b26" stroke="none" stroke-width="1"/>
<rect x="330.80" y="1042.50" width="2.30" height="120.50" fill="#bc3b26" stroke="none" stroke-width="1"/>
<rect x="332.80" y="1042.50" width="6.40" height="117.10" fill="#bc3b26" stroke="none" stroke-width="1"/>
<rect x="338.90" y="1042.50" width="2.30" height="111.00" fill="#bc3b26" stroke="none" stroke-width="1"/>
<rect x="340.90" y="1042.50" width="5.70" height="107.70" fill="#bc3b26" stroke="none" stroke-width="1"/>
<rect x="346.30" y="1042.50" width="1.60" height="104.30" fill="#bc3b26" stroke="none" stroke-width="1"/>
<rect x="347.60" y="1042.50" width="5.00" height="95.50" fill="#bc3b26" stroke="none" stroke-width="1"/>
<rect x="352.30" y="1042.50" width="8.40" height="91.50" fill="#bc3b26" stroke="none" stroke-width="1"/>
<rect x="360.40" y="1042.50" width="1.70" height="85.40" fill="#bc3b26" stroke="none" stroke-width="1"/>
<rect x="361.80" y="1042.50" width="11.00" height="81.40" fill="#bc3b26" stroke="none" stroke-width="1"/>
<rect x="372.50" y="1042.50" width="1.70" height="80.00" fill="#bc3b26" stroke="none" stroke-width="1"/>
<rect x="373.90" y="1042.50" width="7.70" height="77.30" fill="#bc3b26" stroke="none" stroke-width="1"/>
<rect x="381.30" y="1042.50" width="3.00" height="69.90" fill="#bc3b26" stroke="none" stroke-width="1"/>
<rect x="384.00" y="1042.50" width="2.30" height="67.90" fill="#1f70b6" stroke="none" stroke-width="1"/>
<rect x="386.00" y="1042.50" width="1.60" height="67.90" fill="#bc3b26" stroke="none" stroke-width="1"/>
<rect x="387.30" y="1042.50" width="3.70" height="67.90" fill="#1f70b6" stroke="none" stroke-width="1"/>
<rect x="390.70" y="1042.50" width="3.60" height="65.20" fill="#bc3b26" stroke="none" stroke-width="1"/>
<rect x="394.00" y="1042.50" width="3.80" height="65.00" fill="#1f70b6" stroke="none" stroke-width="1"/>
<rect x="397.50" y="1042.50" width="6.60" height="64.00" fill="#bc3b26" stroke="none" stroke-width="1"/>
<rect x="403.80" y="1042.50" width="1.90" height="63.20" fill="#1f70b6" stroke="none" stroke-width="1"/>
<rect x="405.40" y="1042.50" width="5.10" height="54.80" fill="#bc3b26" stroke="none" stroke-width="1"/>
<rect x="410.20" y="1042.50" width="3.60" height="54.80" fill="#1f70b6" stroke="none" stroke-width="1"/>
<rect x="413.50" y="1042.50" width="3.80" height="53.10" fill="#bc3b26" stroke="none" stroke-width="1"/>
<rect x="417.00" y="1042.50" width="3.20" height="51.50" fill="#bc3b26" stroke="none" stroke-width="1"/>
<rect x="419.90" y="1042.50" width="2.00" height="50.50" fill="#1f70b6" stroke="none" stroke-width="1"/>
<rect x="421.60" y="1042.50" width="4.00" height="50.50" fill="#bc3b26" stroke="none" stroke-width="1"/>
<rect x="425.30" y="1042.50" width="6.20" height="42.20" fill="#bc3b26" stroke="none" stroke-width="1"/>
<rect x="431.20" y="1042.50" width="6.10" height="40.50" fill="#bc3b26" stroke="none" stroke-width="1"/>
<rect x="437.00" y="1042.50" width="7.10" height="38.00" fill="#bc3b26" stroke="none" stroke-width="1"/>
<rect x="443.80" y="1042.50" width="2.00" height="30.40" fill="#bc3b26" stroke="none" stroke-width="1"/>
<rect x="445.50" y="1042.50" width="2.30" height="28.70" fill="#1f70b6" stroke="none" stroke-width="1"/>
<rect x="447.50" y="1042.50" width="3.40" height="27.90" fill="#bc3b26" stroke="none" stroke-width="1"/>
<rect x="450.60" y="1042.50" width="3.60" height="27.90" fill="#1f70b6" stroke="none" stroke-width="1"/>
<rect x="453.90" y="1042.50" width="6.70" height="27.90" fill="#bc3b26" stroke="none" stroke-width="1"/>
<rect x="460.30" y="1042.50" width="3.20" height="17.80" fill="#bc3b26" stroke="none" stroke-width="1"/>
<rect x="463.20" y="1042.50" width="2.00" height="16.90" fill="#1f70b6" stroke="none" stroke-width="1"/>
<rect x="464.90" y="1042.50" width="2.50" height="16.00" fill="#bc3b26" stroke="none" stroke-width="1"/>
<rect x="467.10" y="1042.50" width="1.40" height="14.40" fill="#1f70b6" stroke="none" stroke-width="1"/>
<rect x="468.20" y="1042.50" width="2.50" height="14.40" fill="#bc3b26" stroke="none" stroke-width="1"/>
<rect x="470.40" y="1042.50" width="2.00" height="14.40" fill="#1f70b6" stroke="none" stroke-width="1"/>
<rect x="472.10" y="1042.50" width="3.20" height="14.40" fill="#bc3b26" stroke="none" stroke-width="1"/>
<rect x="475.00" y="1042.50" width="1.90" height="14.40" fill="#1f70b6" stroke="none" stroke-width="1"/>
<rect x="476.60" y="1042.50" width="1.50" height="14.40" fill="#bc3b26" stroke="none" stroke-width="1"/>
<rect x="477.80" y="1042.50" width="2.00" height="14.40" fill="#1f70b6" stroke="none" stroke-width="1"/>
<rect x="479.50" y="1042.50" width="2.50" height="11.00" fill="#bc3b26" stroke="none" stroke-width="1"/>
<rect x="481.70" y="1042.50" width="5.90" height="7.70" fill="#bc3b26" stroke="none" stroke-width="1"/>
<rect x="487.30" y="1042.50" width="2.30" height="5.10" fill="#bc3b26" stroke="none" stroke-width="1"/>
<rect x="489.30" y="1042.50" width="2.80" height="2.60" fill="#1f70b6" stroke="none" stroke-width="1"/>
<rect x="491.80" y="1042.50" width="4.80" height="1.40" fill="#bc3b26" stroke="none" stroke-width="1"/>
<rect x="496.30" y="1039.90" width="3.20" height="2.60" fill="#1f70b6" stroke="none" stroke-width="1"/>
<rect x="499.20" y="1031.30" width="1.30" height="11.20" fill="#1f70b6" stroke="none" stroke-width="1"/>
<rect x="500.20" y="1025.50" width="2.20" height="17.00" fill="#bc3b26" stroke="none" stroke-width="1"/>
<rect x="502.10" y="1021.70" width="2.20" height="20.80" fill="#1f70b6" stroke="none" stroke-width="1"/>
<rect x="504.00" y="1019.40" width="8.90" height="23.10" fill="#1f70b6" stroke="none" stroke-width="1"/>
<rect x="512.60" y="1019.40" width="1.70" height="23.10" fill="#bc3b26" stroke="none" stroke-width="1"/>
<rect x="514.00" y="1017.80" width="1.80" height="24.70" fill="#1f70b6" stroke="none" stroke-width="1"/>
<rect x="515.50" y="1013.60" width="3.20" height="28.90" fill="#1f70b6" stroke="none" stroke-width="1"/>
<rect x="518.40" y="1005.40" width="2.20" height="37.10" fill="#bc3b26" stroke="none" stroke-width="1"/>
<rect x="520.30" y="1005.40" width="3.20" height="37.10" fill="#1f70b6" stroke="none" stroke-width="1"/>
<rect x="523.20" y="999.60" width="3.20" height="42.90" fill="#1f70b6" stroke="none" stroke-width="1"/>
<rect x="526.10" y="993.30" width="5.60" height="49.20" fill="#bc3b26" stroke="none" stroke-width="1"/>
<rect x="531.40" y="988.10" width="5.50" height="54.40" fill="#1f70b6" stroke="none" stroke-width="1"/>
<rect x="536.60" y="979.10" width="4.70" height="63.40" fill="#1f70b6" stroke="none" stroke-width="1"/>
<rect x="541.00" y="973.30" width="2.20" height="69.20" fill="#bc3b26" stroke="none" stroke-width="1"/>
<rect x="542.90" y="967.60" width="1.70" height="74.90" fill="#1f70b6" stroke="none" stroke-width="1"/>
<rect x="544.30" y="967.60" width="2.20" height="74.90" fill="#bc3b26" stroke="none" stroke-width="1"/>
<rect x="546.20" y="967.60" width="1.70" height="74.90" fill="#1f70b6" stroke="none" stroke-width="1"/>
<rect x="547.60" y="967.60" width="3.70" height="74.90" fill="#bc3b26" stroke="none" stroke-width="1"/>
<rect x="551.00" y="953.50" width="3.20" height="89.00" fill="#1f70b6" stroke="none" stroke-width="1"/>
<rect x="553.90" y="941.10" width="7.00" height="101.40" fill="#1f70b6" stroke="none" stroke-width="1"/>
<rect x="560.60" y="935.70" width="5.10" height="106.80" fill="#bc3b26" stroke="none" stroke-width="1"/>
<rect x="565.40" y="927.20" width="7.00" height="115.30" fill="#1f70b6" stroke="none" stroke-width="1"/>
<rect x="572.10" y="915.20" width="3.20" height="127.30" fill="#1f70b6" stroke="none" stroke-width="1"/>
<rect x="575.00" y="901.70" width="2.20" height="140.80" fill="#1f70b6" stroke="none" stroke-width="1"/>
<rect x="576.90" y="898.50" width="1.70" height="144.00" fill="#1f70b6" stroke="none" stroke-width="1"/>
</g>
<line x1="312.20" y1="931.60" x2="312.20" y2="1186.20" stroke="#666" stroke-width="1"/>
<line x1="310.50" y1="1186.20" x2="592.00" y2="1186.20" stroke="#666" stroke-width="1"/>
<line x1="309.80" y1="970.30" x2="312.20" y2="970.30" stroke="#666" stroke-width="0.8"/>
<line x1="309.80" y1="1042.50" x2="312.20" y2="1042.50" stroke="#666" stroke-width="0.8"/>
<line x1="309.80" y1="1115.00" x2="312.20" y2="1115.00" stroke="#666" stroke-width="0.8"/>
<line x1="323.80" y1="1186.20" x2="323.80" y2="1188.60" stroke="#666" stroke-width="0.8"/>
<line x1="404.00" y1="1186.20" x2="404.00" y2="1188.60" stroke="#666" stroke-width="0.8"/>
<line x1="484.70" y1="1186.20" x2="484.70" y2="1188.60" stroke="#666" stroke-width="0.8"/>
<line x1="564.90" y1="1186.20" x2="564.90" y2="1188.60" stroke="#666" stroke-width="0.8"/>
<text x="304.60" y="1048.25" font-size="8.6" text-anchor="middle" fill="#222" font-weight="normal" transform="rotate(-90 304.60 1045.40)" stroke="#222" stroke-width="0.12">Predicted Survival(FG)</text>
<text x="348.80" y="960.21" font-size="8.5" text-anchor="start" fill="#222" font-weight="normal" stroke="#222" stroke-width="0.12">Actual survival in 5 years</text>
<rect x="348.80" y="965.70" width="11.20" height="10.90" fill="#1f70b6" stroke="none" stroke-width="1"/>
<rect x="348.80" y="976.60" width="11.20" height="11.30" fill="#bc3b26" stroke="none" stroke-width="1"/>
<text x="364.50" y="973.95" font-size="8" text-anchor="start" fill="#222" font-weight="normal" stroke="#222" stroke-width="0.12">Alive</text>
<text x="364.50" y="985.55" font-size="8" text-anchor="start" fill="#222" font-weight="normal" stroke="#222" stroke-width="0.12">Dead</text>
</svg></body></html>
